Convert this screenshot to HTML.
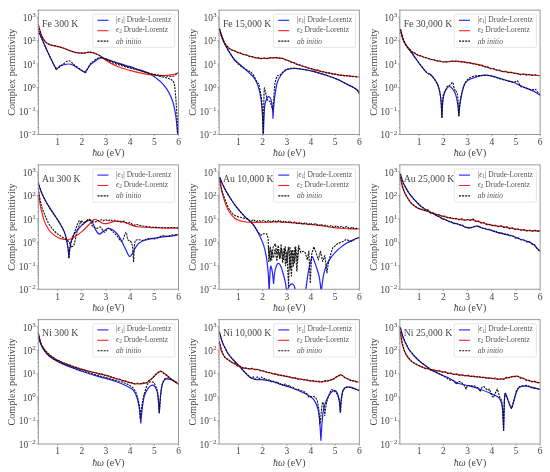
<!DOCTYPE html><html><head><meta charset="utf-8"><style>html,body{margin:0;padding:0;background:#fff;width:550px;height:472px;overflow:hidden}svg{display:block}text{font-family:"Liberation Serif","DejaVu Serif",serif;fill:#464646}</style></head><body>
<svg width="550" height="472" viewBox="0 0 550 472">
<g>
<clipPath id="c00"><rect x="38.30" y="10.10" width="140.20" height="124.30"/></clipPath>
<g clip-path="url(#c00)" fill="none" stroke-linejoin="round">
<path d="M38.30,30.40 C39.72,33.67 43.90,43.80 46.80,50.00 C49.70,56.20 53.43,65.00 55.70,67.60 C57.97,70.20 58.27,66.20 60.40,65.60 C62.53,65.00 66.47,64.12 68.50,64.00 C70.53,63.88 71.02,64.18 72.60,64.90 C74.18,65.62 75.97,67.17 78.00,68.30 C80.03,69.43 82.77,72.27 84.80,71.70 C86.83,71.13 88.50,66.65 90.20,64.90 C91.90,63.15 93.68,62.18 95.00,61.20 C96.32,60.22 97.07,59.53 98.10,59.00 C99.13,58.47 100.17,58.08 101.20,58.00 C102.23,57.92 102.75,58.08 104.30,58.50 C105.85,58.92 108.18,59.73 110.50,60.50 C112.82,61.27 115.63,62.27 118.20,63.10 C120.77,63.93 123.33,64.72 125.90,65.50 C128.47,66.28 131.02,66.98 133.60,67.80 C136.18,68.62 138.82,69.45 141.40,70.40 C143.98,71.35 147.05,72.52 149.10,73.50 C151.15,74.48 152.38,75.42 153.70,76.30 C155.02,77.18 155.87,77.92 157.00,78.80 C158.13,79.68 159.33,80.52 160.50,81.60 C161.67,82.68 162.92,84.02 164.00,85.30 C165.08,86.58 166.08,87.90 167.00,89.30 C167.92,90.70 168.70,92.08 169.50,93.70 C170.30,95.32 171.10,97.13 171.80,99.00 C172.50,100.87 173.03,102.07 173.70,104.90 C174.37,107.73 175.22,112.05 175.80,116.00 C176.38,119.95 176.87,125.27 177.20,128.60 C177.53,131.93 177.70,134.77 177.80,136.00" stroke="#1f1fff" stroke-width="1.2"/>
<path d="M38.30,24.90 C38.82,26.60 40.20,32.27 41.40,35.10 C42.60,37.93 44.13,40.32 45.50,41.90 C46.87,43.48 47.80,43.88 49.60,44.60 C51.40,45.32 54.05,45.63 56.30,46.20 C58.55,46.77 60.83,47.25 63.10,48.00 C65.37,48.75 67.63,49.92 69.90,50.70 C72.17,51.48 74.45,52.30 76.70,52.70 C78.95,53.10 81.37,53.20 83.40,53.10 C85.43,53.00 87.32,52.17 88.90,52.10 C90.48,52.03 91.88,52.48 92.90,52.70 C93.92,52.92 93.88,52.95 95.00,53.40 C96.12,53.85 98.05,54.47 99.60,55.40 C101.15,56.33 102.48,57.72 104.30,59.00 C106.12,60.28 108.18,61.82 110.50,63.10 C112.82,64.38 115.63,65.67 118.20,66.70 C120.77,67.73 123.33,68.53 125.90,69.30 C128.47,70.07 131.02,70.65 133.60,71.30 C136.18,71.95 138.82,72.63 141.40,73.20 C143.98,73.77 146.53,74.32 149.10,74.70 C151.67,75.08 154.23,75.37 156.80,75.50 C159.37,75.63 161.92,75.63 164.50,75.50 C167.08,75.37 169.95,75.13 172.30,74.70 C174.65,74.27 177.55,73.20 178.60,72.90" stroke="#ff1f1f" stroke-width="1.2"/>
<path d="M38.30,24.90 C38.82,26.60 40.20,32.27 41.40,35.10 C42.60,37.93 44.13,40.32 45.50,41.90 C46.87,43.48 47.80,43.88 49.60,44.60 C51.40,45.32 54.05,45.63 56.30,46.20 C58.55,46.77 60.83,47.25 63.10,48.00 C65.37,48.75 67.63,49.92 69.90,50.70 C72.17,51.48 74.45,52.30 76.70,52.70 C78.95,53.10 81.37,53.20 83.40,53.10 C85.43,53.00 87.32,52.17 88.90,52.10 C90.48,52.03 91.88,52.48 92.90,52.70 C93.92,52.92 93.88,52.92 95.00,53.40 C96.12,53.88 98.05,54.70 99.60,55.60 C101.15,56.50 102.48,57.77 104.30,58.80 C106.12,59.83 108.18,60.83 110.50,61.80 C112.82,62.77 115.63,63.75 118.20,64.60 C120.77,65.45 123.33,66.17 125.90,66.90 C128.47,67.63 131.02,68.32 133.60,69.00 C136.18,69.68 138.82,70.30 141.40,71.00 C143.98,71.70 146.53,72.58 149.10,73.20 C151.67,73.82 154.23,74.23 156.80,74.70 C159.37,75.17 162.43,75.73 164.50,76.00 C166.57,76.27 167.65,76.30 169.20,76.30 C170.75,76.30 172.52,76.47 173.80,76.00 C175.08,75.53 176.10,74.08 176.90,73.50 C177.70,72.92 178.32,72.67 178.60,72.50" stroke="#111" stroke-width="1.1" stroke-dasharray="2.1,1"/>
<path d="M38.30,30.40 C39.72,33.67 43.83,43.45 46.80,50.00 C49.77,56.55 54.55,66.42 56.10,69.70 M56.10,69.70 C57.08,68.92 59.87,66.48 62.00,65.00 C64.13,63.52 66.73,60.72 68.90,60.80 C71.07,60.88 72.23,63.47 75.00,65.50 C77.77,67.53 83.75,71.75 85.50,73.00 M85.50,73.00 C86.28,71.53 88.73,66.28 90.20,64.20 C91.67,62.12 92.72,61.62 94.30,60.50 C95.88,59.38 97.92,57.82 99.70,57.50 C101.48,57.18 103.20,58.05 105.00,58.60 C106.80,59.15 108.30,59.98 110.50,60.80 C112.70,61.62 115.63,62.63 118.20,63.50 C120.77,64.37 123.33,65.20 125.90,66.00 C128.47,66.80 131.02,67.47 133.60,68.30 C136.18,69.13 138.82,70.13 141.40,71.00 C143.98,71.87 146.53,72.75 149.10,73.50 C151.67,74.25 153.97,74.78 156.80,75.50 C159.63,76.22 163.78,77.15 166.10,77.80 C168.42,78.45 169.42,78.62 170.70,79.40 C171.98,80.18 173.07,80.73 173.80,82.50 C174.53,84.27 174.65,85.75 175.10,90.00 C175.55,94.25 176.15,102.97 176.50,108.00 C176.85,113.03 177.03,115.53 177.20,120.20 C177.37,124.87 177.45,133.37 177.50,136.00" stroke="#111" stroke-width="1.1" stroke-dasharray="2.1,1"/>
</g>
<rect x="38.30" y="10.10" width="140.20" height="124.30" fill="none" stroke="#808080" stroke-width="0.8"/>
<path d="M57.64,134.40v1.8 M81.81,134.40v1.8 M105.98,134.40v1.8 M130.16,134.40v1.8 M154.33,134.40v1.8 M178.50,134.40v1.8 M38.30,134.40h-1.8 M38.30,127.34h-1 M38.30,123.21h-1 M38.30,120.28h-1 M38.30,118.01h-1 M38.30,116.15h-1 M38.30,114.58h-1 M38.30,113.22h-1 M38.30,112.02h-1 M38.30,110.95h-1.8 M38.30,103.89h-1 M38.30,99.76h-1 M38.30,96.83h-1 M38.30,94.56h-1 M38.30,92.71h-1 M38.30,91.14h-1 M38.30,89.78h-1 M38.30,88.58h-1 M38.30,87.50h-1.8 M38.30,80.44h-1 M38.30,76.32h-1 M38.30,73.39h-1 M38.30,71.11h-1 M38.30,69.26h-1 M38.30,67.69h-1 M38.30,66.33h-1 M38.30,65.13h-1 M38.30,64.06h-1.8 M38.30,57.00h-1 M38.30,52.87h-1 M38.30,49.94h-1 M38.30,47.67h-1 M38.30,45.81h-1 M38.30,44.24h-1 M38.30,42.88h-1 M38.30,41.68h-1 M38.30,40.61h-1.8 M38.30,33.55h-1 M38.30,29.42h-1 M38.30,26.49h-1 M38.30,24.22h-1 M38.30,22.36h-1 M38.30,20.79h-1 M38.30,19.43h-1 M38.30,18.23h-1 M38.30,17.16h-1.8 M38.30,10.10h-1" stroke="#777" stroke-width="0.6" fill="none"/>
<text x="57.64" y="144.80" font-size="9.5" text-anchor="middle">1</text>
<text x="81.81" y="144.80" font-size="9.5" text-anchor="middle">2</text>
<text x="105.98" y="144.80" font-size="9.5" text-anchor="middle">3</text>
<text x="130.16" y="144.80" font-size="9.5" text-anchor="middle">4</text>
<text x="154.33" y="144.80" font-size="9.5" text-anchor="middle">5</text>
<text x="178.50" y="144.80" font-size="9.5" text-anchor="middle">6</text>
<text x="35.70" y="138.20" font-size="9.5" text-anchor="end">10<tspan font-size="7.03" dy="-3.7">−2</tspan></text>
<text x="35.70" y="114.75" font-size="9.5" text-anchor="end">10<tspan font-size="7.03" dy="-3.7">−1</tspan></text>
<text x="35.70" y="91.30" font-size="9.5" text-anchor="end">10<tspan font-size="7.03" dy="-3.7">0</tspan></text>
<text x="35.70" y="67.86" font-size="9.5" text-anchor="end">10<tspan font-size="7.03" dy="-3.7">1</tspan></text>
<text x="35.70" y="44.41" font-size="9.5" text-anchor="end">10<tspan font-size="7.03" dy="-3.7">2</tspan></text>
<text x="35.70" y="20.96" font-size="9.5" text-anchor="end">10<tspan font-size="7.03" dy="-3.7">3</tspan></text>
<text x="108.40" y="155.90" font-size="9.9" text-anchor="middle"><tspan font-style="italic">ħω</tspan> (eV)</text>
<text transform="translate(14.90,72.25) rotate(-90)" font-size="10.1" text-anchor="middle">Complex permittivity</text>
<text x="42.10" y="26.70" font-size="9.75">Fe 300 K</text>
<rect x="92.70" y="14.10" width="82.10" height="33.30" rx="1.5" fill="#fff" fill-opacity="0.8" stroke="#ddd" stroke-width="0.7"/>
<path d="M97.40,20.30h11" stroke="#1f1fff" stroke-width="1.1"/>
<path d="M97.40,30.70h11" stroke="#ff1f1f" stroke-width="1.1"/>
<path d="M97.40,41.10h11" stroke="#111" stroke-width="1.1" stroke-dasharray="2.1,1"/>
<text x="116.10" y="21.80" font-size="7.5" style="fill:#555">|<tspan font-style="italic">ϵ</tspan><tspan font-size="5.25" dy="1.2">1</tspan><tspan dy="-1.2">|</tspan> Drude-Lorentz</text>
<text x="116.10" y="32.20" font-size="7.5" style="fill:#555"><tspan font-style="italic">ϵ</tspan><tspan font-size="5.25" dy="1.2">2</tspan><tspan dy="-1.2"> Drude-Lorentz</tspan></text>
<text x="116.10" y="43.50" font-size="7.5" font-style="italic" style="fill:#555">ab initio</text>
</g>
<g>
<clipPath id="c01"><rect x="219.10" y="10.10" width="140.20" height="124.30"/></clipPath>
<g clip-path="url(#c01)" fill="none" stroke-linejoin="round">
<path d="M219.30,28.30 C219.82,29.88 221.20,34.63 222.40,37.80 C223.60,40.97 225.13,44.58 226.50,47.30 C227.87,50.02 229.23,51.98 230.60,54.10 C231.97,56.22 232.95,58.10 234.70,60.00 C236.45,61.90 238.68,63.35 241.10,65.50 C243.52,67.65 247.05,70.87 249.20,72.90 C251.35,74.93 252.53,75.57 254.00,77.70 C255.47,79.83 256.93,82.75 258.00,85.70 C259.07,88.65 259.73,91.63 260.40,95.40 C261.07,99.17 261.60,104.02 262.00,108.30 C262.40,112.58 262.58,116.48 262.80,121.10 C263.02,125.72 263.22,133.52 263.30,136.00 M263.30,136.00 C263.50,131.38 264.03,114.27 264.50,108.30 C264.97,102.33 265.43,102.13 266.10,100.20 C266.77,98.27 267.70,96.83 268.50,96.70 C269.30,96.57 270.23,97.47 270.90,99.40 C271.57,101.33 272.15,105.08 272.50,108.30 C272.85,111.52 272.92,116.97 273.00,118.70 M273.00,118.70 C273.10,116.97 273.28,112.18 273.60,108.30 C273.92,104.42 274.28,99.70 274.90,95.40 C275.52,91.10 276.23,85.98 277.30,82.50 C278.37,79.02 279.82,76.63 281.30,74.50 C282.78,72.37 284.73,70.63 286.20,69.70 C287.67,68.77 288.55,69.12 290.10,68.90 C291.65,68.68 293.45,68.33 295.50,68.40 C297.55,68.47 299.43,68.80 302.40,69.30 C305.37,69.80 309.22,70.37 313.30,71.40 C317.38,72.43 322.82,74.15 326.90,75.50 C330.98,76.85 334.85,78.25 337.80,79.50 C340.75,80.75 342.32,81.85 344.60,83.00 C346.88,84.15 349.45,85.27 351.50,86.40 C353.55,87.53 355.55,88.55 356.90,89.80 C358.25,91.05 359.15,93.22 359.60,93.90" stroke="#1f1fff" stroke-width="1.2"/>
<path d="M219.30,28.30 C219.82,30.12 221.20,36.25 222.40,39.20 C223.60,42.15 225.13,44.32 226.50,46.00 C227.87,47.68 228.80,48.28 230.60,49.30 C232.40,50.32 235.05,51.23 237.30,52.10 C239.55,52.97 241.83,53.77 244.10,54.50 C246.37,55.23 248.63,55.90 250.90,56.50 C253.17,57.10 255.45,57.78 257.70,58.10 C259.95,58.42 261.70,58.47 264.40,58.40 C267.10,58.33 270.95,57.70 273.90,57.70 C276.85,57.70 280.08,58.05 282.10,58.40 C284.12,58.75 284.22,59.12 286.00,59.80 C287.78,60.48 290.53,61.60 292.80,62.50 C295.07,63.40 296.18,64.07 299.60,65.20 C303.02,66.33 308.75,68.05 313.30,69.30 C317.85,70.55 322.37,71.72 326.90,72.70 C331.43,73.68 335.95,74.57 340.50,75.20 C345.05,75.83 351.02,76.18 354.20,76.50 C357.38,76.82 358.70,77.00 359.60,77.10" stroke="#ff1f1f" stroke-width="1.2"/>
<path d="M219.30,28.74 C219.80,30.35 221.30,35.84 222.30,38.41 C223.30,40.99 224.30,42.70 225.30,44.18 C226.30,45.65 227.30,46.30 228.30,47.27 C229.30,48.24 230.30,49.46 231.30,49.99 C232.30,50.53 233.30,50.07 234.30,50.48 C235.30,50.89 236.30,52.04 237.30,52.45 C238.30,52.86 239.30,52.57 240.30,52.92 C241.30,53.27 242.30,54.23 243.30,54.55 C244.30,54.87 245.30,54.51 246.30,54.82 C247.30,55.12 248.30,56.05 249.30,56.35 C250.30,56.66 251.30,56.39 252.30,56.63 C253.30,56.88 254.30,57.61 255.30,57.81 C256.30,58.02 257.30,57.72 258.30,57.86 C259.30,57.99 260.30,58.61 261.30,58.63 C262.30,58.64 263.30,57.95 264.30,57.95 C265.30,57.95 266.30,58.67 267.30,58.62 C268.30,58.57 269.30,57.75 270.30,57.65 C271.30,57.55 272.30,58.02 273.30,58.03 C274.30,58.03 275.30,57.63 276.30,57.67 C277.30,57.72 278.30,58.22 279.30,58.32 C280.30,58.43 281.30,58.06 282.30,58.31 C283.30,58.57 284.30,59.48 285.30,59.84 C286.30,60.20 287.30,60.08 288.30,60.47 C289.30,60.86 290.30,61.80 291.30,62.17 C292.30,62.54 293.30,62.27 294.30,62.68 C295.30,63.08 296.30,64.19 297.30,64.59 C298.30,65.00 299.30,64.77 300.30,65.09 C301.30,65.41 302.30,66.20 303.30,66.53 C304.30,66.85 305.30,66.74 306.30,67.05 C307.30,67.35 308.30,68.06 309.30,68.35 C310.30,68.64 311.30,68.52 312.30,68.81 C313.30,69.10 314.30,69.89 315.30,70.10 C316.30,70.32 317.30,69.84 318.30,70.10 C319.30,70.36 320.30,71.36 321.30,71.65 C322.30,71.94 323.30,71.59 324.30,71.85 C325.30,72.10 326.30,73.01 327.30,73.19 C328.30,73.37 329.30,72.76 330.30,72.94 C331.30,73.11 332.30,74.07 333.30,74.25 C334.30,74.43 335.30,73.82 336.30,74.01 C337.30,74.19 338.30,75.20 339.30,75.36 C340.30,75.52 341.30,74.89 342.30,74.98 C343.30,75.08 344.30,75.83 345.30,75.91 C346.30,76.00 347.30,75.37 348.30,75.50 C349.30,75.62 350.30,76.53 351.30,76.66 C352.30,76.80 353.30,76.22 354.30,76.31 C355.30,76.41 356.80,77.07 357.30,77.22" stroke="#111" stroke-width="1.1" stroke-dasharray="2.1,1"/>
<path d="M219.30,28.30 C219.82,29.88 221.20,34.63 222.40,37.80 C223.60,40.97 225.13,44.58 226.50,47.30 C227.87,50.02 229.23,51.98 230.60,54.10 C231.97,56.22 232.95,57.95 234.70,60.00 C236.45,62.05 238.68,64.52 241.10,66.40 C243.52,68.28 247.45,70.22 249.20,71.30 C250.95,72.38 250.80,72.10 251.60,72.90 C252.40,73.70 253.07,74.50 254.00,76.10 C254.93,77.70 256.40,81.17 257.20,82.50 C258.00,83.83 258.27,82.48 258.80,84.10 C259.33,85.72 259.87,88.98 260.40,92.20 C260.93,95.42 261.53,96.10 262.00,103.40 C262.47,110.70 263.00,130.57 263.20,136.00 M263.20,136.00 C263.35,128.70 263.82,99.90 264.10,92.20 C264.38,84.50 264.57,89.40 264.90,89.80 C265.23,90.20 265.63,92.87 266.10,94.60 C266.57,96.33 267.03,99.00 267.70,100.20 C268.37,101.40 269.30,100.18 270.10,101.80 C270.90,103.42 272.10,108.55 272.50,109.90 M272.50,109.90 C272.63,109.10 272.90,109.40 273.30,105.10 C273.70,100.80 274.23,88.93 274.90,84.10 C275.57,79.27 276.50,77.57 277.30,76.10 C278.10,74.63 278.48,76.23 279.70,75.30 C280.92,74.37 282.72,71.65 284.60,70.50 C286.48,69.35 289.18,68.75 291.00,68.40 C292.82,68.05 293.60,68.25 295.50,68.40 C297.40,68.55 299.43,68.80 302.40,69.30 C305.37,69.80 309.22,70.37 313.30,71.40 C317.38,72.43 322.82,74.15 326.90,75.50 C330.98,76.85 334.85,78.25 337.80,79.50 C340.75,80.75 342.78,82.05 344.60,83.00 C346.42,83.95 347.55,84.63 348.70,85.20 C349.85,85.77 350.13,85.63 351.50,86.40 C352.87,87.17 355.55,88.55 356.90,89.80 C358.25,91.05 359.15,93.22 359.60,93.90" stroke="#111" stroke-width="1.1" stroke-dasharray="2.1,1"/>
</g>
<rect x="219.10" y="10.10" width="140.20" height="124.30" fill="none" stroke="#808080" stroke-width="0.8"/>
<path d="M238.44,134.40v1.8 M262.61,134.40v1.8 M286.78,134.40v1.8 M310.96,134.40v1.8 M335.13,134.40v1.8 M359.30,134.40v1.8 M219.10,134.40h-1.8 M219.10,127.34h-1 M219.10,123.21h-1 M219.10,120.28h-1 M219.10,118.01h-1 M219.10,116.15h-1 M219.10,114.58h-1 M219.10,113.22h-1 M219.10,112.02h-1 M219.10,110.95h-1.8 M219.10,103.89h-1 M219.10,99.76h-1 M219.10,96.83h-1 M219.10,94.56h-1 M219.10,92.71h-1 M219.10,91.14h-1 M219.10,89.78h-1 M219.10,88.58h-1 M219.10,87.50h-1.8 M219.10,80.44h-1 M219.10,76.32h-1 M219.10,73.39h-1 M219.10,71.11h-1 M219.10,69.26h-1 M219.10,67.69h-1 M219.10,66.33h-1 M219.10,65.13h-1 M219.10,64.06h-1.8 M219.10,57.00h-1 M219.10,52.87h-1 M219.10,49.94h-1 M219.10,47.67h-1 M219.10,45.81h-1 M219.10,44.24h-1 M219.10,42.88h-1 M219.10,41.68h-1 M219.10,40.61h-1.8 M219.10,33.55h-1 M219.10,29.42h-1 M219.10,26.49h-1 M219.10,24.22h-1 M219.10,22.36h-1 M219.10,20.79h-1 M219.10,19.43h-1 M219.10,18.23h-1 M219.10,17.16h-1.8 M219.10,10.10h-1" stroke="#777" stroke-width="0.6" fill="none"/>
<text x="238.44" y="144.80" font-size="9.5" text-anchor="middle">1</text>
<text x="262.61" y="144.80" font-size="9.5" text-anchor="middle">2</text>
<text x="286.78" y="144.80" font-size="9.5" text-anchor="middle">3</text>
<text x="310.96" y="144.80" font-size="9.5" text-anchor="middle">4</text>
<text x="335.13" y="144.80" font-size="9.5" text-anchor="middle">5</text>
<text x="359.30" y="144.80" font-size="9.5" text-anchor="middle">6</text>
<text x="216.50" y="138.20" font-size="9.5" text-anchor="end">10<tspan font-size="7.03" dy="-3.7">−2</tspan></text>
<text x="216.50" y="114.75" font-size="9.5" text-anchor="end">10<tspan font-size="7.03" dy="-3.7">−1</tspan></text>
<text x="216.50" y="91.30" font-size="9.5" text-anchor="end">10<tspan font-size="7.03" dy="-3.7">0</tspan></text>
<text x="216.50" y="67.86" font-size="9.5" text-anchor="end">10<tspan font-size="7.03" dy="-3.7">1</tspan></text>
<text x="216.50" y="44.41" font-size="9.5" text-anchor="end">10<tspan font-size="7.03" dy="-3.7">2</tspan></text>
<text x="216.50" y="20.96" font-size="9.5" text-anchor="end">10<tspan font-size="7.03" dy="-3.7">3</tspan></text>
<text x="289.20" y="155.90" font-size="9.9" text-anchor="middle"><tspan font-style="italic">ħω</tspan> (eV)</text>
<text transform="translate(195.70,72.25) rotate(-90)" font-size="10.1" text-anchor="middle">Complex permittivity</text>
<text x="222.90" y="26.70" font-size="9.75">Fe 15,000 K</text>
<rect x="273.50" y="14.10" width="82.10" height="33.30" rx="1.5" fill="#fff" fill-opacity="0.8" stroke="#ddd" stroke-width="0.7"/>
<path d="M278.20,20.30h11" stroke="#1f1fff" stroke-width="1.1"/>
<path d="M278.20,30.70h11" stroke="#ff1f1f" stroke-width="1.1"/>
<path d="M278.20,41.10h11" stroke="#111" stroke-width="1.1" stroke-dasharray="2.1,1"/>
<text x="296.90" y="21.80" font-size="7.5" style="fill:#555">|<tspan font-style="italic">ϵ</tspan><tspan font-size="5.25" dy="1.2">1</tspan><tspan dy="-1.2">|</tspan> Drude-Lorentz</text>
<text x="296.90" y="32.20" font-size="7.5" style="fill:#555"><tspan font-style="italic">ϵ</tspan><tspan font-size="5.25" dy="1.2">2</tspan><tspan dy="-1.2"> Drude-Lorentz</tspan></text>
<text x="296.90" y="43.50" font-size="7.5" font-style="italic" style="fill:#555">ab initio</text>
</g>
<g>
<clipPath id="c02"><rect x="399.90" y="10.10" width="140.20" height="124.30"/></clipPath>
<g clip-path="url(#c02)" fill="none" stroke-linejoin="round">
<path d="M400.30,29.00 C400.82,30.82 402.20,36.85 403.40,39.90 C404.60,42.95 406.13,45.17 407.50,47.30 C408.87,49.43 410.23,50.83 411.60,52.70 C412.97,54.57 413.95,56.08 415.70,58.50 C417.45,60.92 420.22,64.80 422.10,67.20 C423.98,69.60 425.65,71.73 427.00,72.90 C428.35,74.07 429.13,73.40 430.20,74.20 C431.27,75.00 432.20,76.05 433.40,77.70 C434.60,79.35 436.33,81.68 437.40,84.10 C438.47,86.52 439.18,89.25 439.80,92.20 C440.42,95.15 440.75,97.52 441.10,101.80 C441.45,106.08 441.77,115.22 441.90,117.90 M441.90,117.90 C442.03,115.22 442.23,106.08 442.70,101.80 C443.17,97.52 443.97,94.47 444.70,92.20 C445.43,89.93 446.30,89.15 447.10,88.20 C447.90,87.25 448.57,86.37 449.50,86.50 C450.43,86.63 451.63,87.52 452.70,89.00 C453.77,90.48 455.05,92.73 455.90,95.40 C456.75,98.07 457.32,101.52 457.80,105.00 C458.28,108.48 458.63,114.42 458.80,116.30 M458.80,116.30 C458.98,114.42 459.45,108.48 459.90,105.00 C460.35,101.52 460.82,98.62 461.50,95.40 C462.18,92.18 463.05,88.12 464.00,85.70 C464.95,83.28 465.78,82.15 467.20,80.90 C468.62,79.65 470.37,79.05 472.50,78.20 C474.63,77.35 477.82,76.30 480.00,75.80 C482.18,75.30 483.72,75.20 485.60,75.20 C487.48,75.20 489.42,75.42 491.30,75.80 C493.18,76.18 495.03,76.93 496.90,77.50 C498.77,78.07 500.62,78.63 502.50,79.20 C504.38,79.77 506.32,80.35 508.20,80.90 C510.08,81.45 511.92,81.75 513.80,82.50 C515.68,83.25 517.62,84.55 519.50,85.40 C521.38,86.25 523.23,86.85 525.10,87.60 C526.97,88.35 528.82,89.05 530.70,89.90 C532.58,90.75 534.75,91.75 536.40,92.70 C538.05,93.65 539.90,95.12 540.60,95.60" stroke="#1f1fff" stroke-width="1.2"/>
<path d="M400.30,29.00 C400.82,30.92 402.20,37.45 403.40,40.50 C404.60,43.55 406.13,45.48 407.50,47.30 C408.87,49.12 409.80,50.08 411.60,51.40 C413.40,52.72 416.05,54.18 418.30,55.20 C420.55,56.22 422.83,56.78 425.10,57.50 C427.37,58.22 429.63,58.90 431.90,59.50 C434.17,60.10 436.45,60.70 438.70,61.10 C440.95,61.50 442.70,61.90 445.40,61.90 C448.10,61.90 451.95,61.10 454.90,61.10 C457.85,61.10 460.25,61.52 463.10,61.90 C465.95,62.28 469.08,62.85 472.00,63.40 C474.92,63.95 477.38,64.35 480.60,65.20 C483.82,66.05 487.65,67.48 491.30,68.50 C494.95,69.52 498.75,70.55 502.50,71.30 C506.25,72.05 510.97,72.53 513.80,73.00 C516.63,73.47 517.62,73.87 519.50,74.10 C521.38,74.33 523.23,74.27 525.10,74.40 C526.97,74.53 528.12,74.70 530.70,74.90 C533.28,75.10 538.95,75.48 540.60,75.60" stroke="#ff1f1f" stroke-width="1.2"/>
<path d="M400.30,29.26 C400.80,31.01 402.30,37.04 403.30,39.76 C404.30,42.49 405.30,44.12 406.30,45.61 C407.30,47.11 408.30,47.62 409.30,48.71 C410.30,49.81 411.30,51.43 412.30,52.19 C413.30,52.96 414.30,52.77 415.30,53.30 C416.30,53.83 417.30,54.97 418.30,55.38 C419.30,55.79 420.30,55.39 421.30,55.75 C422.30,56.10 423.30,57.14 424.30,57.50 C425.30,57.85 426.30,57.55 427.30,57.89 C428.30,58.23 429.30,59.29 430.30,59.55 C431.30,59.82 432.30,59.25 433.30,59.49 C434.30,59.73 435.30,60.78 436.30,61.00 C437.30,61.23 438.30,60.68 439.30,60.83 C440.30,60.98 441.30,61.79 442.30,61.93 C443.30,62.07 444.30,61.64 445.30,61.66 C446.30,61.68 447.30,62.18 448.30,62.05 C449.30,61.93 450.30,61.02 451.30,60.92 C452.30,60.83 453.30,61.51 454.30,61.51 C455.30,61.50 456.30,60.81 457.30,60.90 C458.30,60.99 459.30,61.90 460.30,62.04 C461.30,62.18 462.30,61.60 463.30,61.74 C464.30,61.88 465.30,62.74 466.30,62.88 C467.30,63.02 468.30,62.42 469.30,62.56 C470.30,62.71 471.30,63.52 472.30,63.74 C473.30,63.97 474.30,63.66 475.30,63.90 C476.30,64.15 477.30,65.00 478.30,65.20 C479.30,65.39 480.30,64.81 481.30,65.08 C482.30,65.34 483.30,66.48 484.30,66.77 C485.30,67.05 486.30,66.48 487.30,66.78 C488.30,67.09 489.30,68.33 490.30,68.62 C491.30,68.90 492.30,68.26 493.30,68.50 C494.30,68.74 495.30,69.81 496.30,70.06 C497.30,70.32 498.30,69.79 499.30,70.04 C500.30,70.30 501.30,71.38 502.30,71.58 C503.30,71.78 504.30,71.04 505.30,71.22 C506.30,71.40 507.30,72.46 508.30,72.66 C509.30,72.85 510.30,72.30 511.30,72.41 C512.30,72.53 513.30,73.15 514.30,73.32 C515.30,73.49 516.30,73.20 517.30,73.42 C518.30,73.65 519.30,74.56 520.30,74.66 C521.30,74.75 522.30,73.93 523.30,73.98 C524.30,74.02 525.30,74.82 526.30,74.90 C527.30,74.99 528.30,74.42 529.30,74.49 C530.30,74.57 531.30,75.30 532.30,75.37 C533.30,75.44 534.30,74.85 535.30,74.92 C536.30,74.98 537.80,75.60 538.30,75.74" stroke="#111" stroke-width="1.1" stroke-dasharray="2.1,1"/>
<path d="M400.30,29.00 C400.82,30.82 402.20,36.85 403.40,39.90 C404.60,42.95 406.13,45.17 407.50,47.30 C408.87,49.43 410.23,50.83 411.60,52.70 C412.97,54.57 413.95,56.08 415.70,58.50 C417.45,60.92 420.22,64.80 422.10,67.20 C423.98,69.60 425.52,71.55 427.00,72.90 C428.48,74.25 429.93,74.50 431.00,75.30 C432.07,76.10 432.33,76.23 433.40,77.70 C434.47,79.17 436.33,81.68 437.40,84.10 C438.47,86.52 439.18,89.25 439.80,92.20 C440.42,95.15 440.75,97.52 441.10,101.80 C441.45,106.08 441.77,115.22 441.90,117.90 M441.90,117.90 C442.03,115.42 442.48,106.82 442.70,103.00 C442.92,99.18 442.82,96.93 443.20,95.00 C443.58,93.07 444.32,92.83 445.00,91.40 C445.68,89.97 446.62,87.38 447.30,86.40 C447.98,85.42 448.50,85.82 449.10,85.50 C449.70,85.18 450.37,85.03 450.90,84.50 C451.43,83.97 451.92,82.52 452.30,82.30 C452.68,82.08 452.98,82.52 453.20,83.20 C453.42,83.88 453.38,85.50 453.60,86.40 C453.82,87.30 454.18,87.70 454.50,88.60 C454.82,89.50 455.18,91.33 455.50,91.80 C455.82,92.27 456.15,91.17 456.40,91.40 C456.65,91.63 456.78,92.43 457.00,93.20 C457.22,93.97 457.48,94.03 457.70,96.00 C457.92,97.97 458.12,101.62 458.30,105.00 C458.48,108.38 458.72,114.42 458.80,116.30 M458.80,116.30 C458.98,114.08 459.45,106.72 459.90,103.00 C460.35,99.28 460.95,96.55 461.50,94.00 C462.05,91.45 462.62,89.50 463.20,87.70 C463.78,85.90 464.25,84.57 465.00,83.20 C465.75,81.83 466.78,80.42 467.70,79.50 C468.62,78.58 469.28,78.30 470.50,77.70 C471.72,77.10 473.42,76.25 475.00,75.90 C476.58,75.55 478.23,75.72 480.00,75.60 C481.77,75.48 483.72,75.13 485.60,75.20 C487.48,75.27 489.42,75.57 491.30,76.00 C493.18,76.43 495.03,77.23 496.90,77.80 C498.77,78.37 500.62,78.87 502.50,79.40 C504.38,79.93 506.32,80.52 508.20,81.00 C510.08,81.48 512.30,82.32 513.80,82.30 C515.30,82.28 516.33,80.70 517.20,80.90 C518.07,81.10 518.43,82.57 519.00,83.50 C519.57,84.43 520.05,85.90 520.60,86.50 C521.15,87.10 521.55,86.88 522.30,87.10 C523.05,87.32 523.70,87.33 525.10,87.80 C526.50,88.27 529.00,89.65 530.70,89.90 C532.40,90.15 534.25,89.03 535.30,89.30 C536.35,89.57 536.12,90.52 537.00,91.50 C537.88,92.48 540.00,94.58 540.60,95.20" stroke="#111" stroke-width="1.1" stroke-dasharray="2.1,1"/>
</g>
<rect x="399.90" y="10.10" width="140.20" height="124.30" fill="none" stroke="#808080" stroke-width="0.8"/>
<path d="M419.24,134.40v1.8 M443.41,134.40v1.8 M467.58,134.40v1.8 M491.76,134.40v1.8 M515.93,134.40v1.8 M540.10,134.40v1.8 M399.90,134.40h-1.8 M399.90,127.34h-1 M399.90,123.21h-1 M399.90,120.28h-1 M399.90,118.01h-1 M399.90,116.15h-1 M399.90,114.58h-1 M399.90,113.22h-1 M399.90,112.02h-1 M399.90,110.95h-1.8 M399.90,103.89h-1 M399.90,99.76h-1 M399.90,96.83h-1 M399.90,94.56h-1 M399.90,92.71h-1 M399.90,91.14h-1 M399.90,89.78h-1 M399.90,88.58h-1 M399.90,87.50h-1.8 M399.90,80.44h-1 M399.90,76.32h-1 M399.90,73.39h-1 M399.90,71.11h-1 M399.90,69.26h-1 M399.90,67.69h-1 M399.90,66.33h-1 M399.90,65.13h-1 M399.90,64.06h-1.8 M399.90,57.00h-1 M399.90,52.87h-1 M399.90,49.94h-1 M399.90,47.67h-1 M399.90,45.81h-1 M399.90,44.24h-1 M399.90,42.88h-1 M399.90,41.68h-1 M399.90,40.61h-1.8 M399.90,33.55h-1 M399.90,29.42h-1 M399.90,26.49h-1 M399.90,24.22h-1 M399.90,22.36h-1 M399.90,20.79h-1 M399.90,19.43h-1 M399.90,18.23h-1 M399.90,17.16h-1.8 M399.90,10.10h-1" stroke="#777" stroke-width="0.6" fill="none"/>
<text x="419.24" y="144.80" font-size="9.5" text-anchor="middle">1</text>
<text x="443.41" y="144.80" font-size="9.5" text-anchor="middle">2</text>
<text x="467.58" y="144.80" font-size="9.5" text-anchor="middle">3</text>
<text x="491.76" y="144.80" font-size="9.5" text-anchor="middle">4</text>
<text x="515.93" y="144.80" font-size="9.5" text-anchor="middle">5</text>
<text x="540.10" y="144.80" font-size="9.5" text-anchor="middle">6</text>
<text x="397.30" y="138.20" font-size="9.5" text-anchor="end">10<tspan font-size="7.03" dy="-3.7">−2</tspan></text>
<text x="397.30" y="114.75" font-size="9.5" text-anchor="end">10<tspan font-size="7.03" dy="-3.7">−1</tspan></text>
<text x="397.30" y="91.30" font-size="9.5" text-anchor="end">10<tspan font-size="7.03" dy="-3.7">0</tspan></text>
<text x="397.30" y="67.86" font-size="9.5" text-anchor="end">10<tspan font-size="7.03" dy="-3.7">1</tspan></text>
<text x="397.30" y="44.41" font-size="9.5" text-anchor="end">10<tspan font-size="7.03" dy="-3.7">2</tspan></text>
<text x="397.30" y="20.96" font-size="9.5" text-anchor="end">10<tspan font-size="7.03" dy="-3.7">3</tspan></text>
<text x="470.00" y="155.90" font-size="9.9" text-anchor="middle"><tspan font-style="italic">ħω</tspan> (eV)</text>
<text transform="translate(376.50,72.25) rotate(-90)" font-size="10.1" text-anchor="middle">Complex permittivity</text>
<text x="403.70" y="26.70" font-size="9.75">Fe 30,000 K</text>
<rect x="454.30" y="14.10" width="82.10" height="33.30" rx="1.5" fill="#fff" fill-opacity="0.8" stroke="#ddd" stroke-width="0.7"/>
<path d="M459.00,20.30h11" stroke="#1f1fff" stroke-width="1.1"/>
<path d="M459.00,30.70h11" stroke="#ff1f1f" stroke-width="1.1"/>
<path d="M459.00,41.10h11" stroke="#111" stroke-width="1.1" stroke-dasharray="2.1,1"/>
<text x="477.70" y="21.80" font-size="7.5" style="fill:#555">|<tspan font-style="italic">ϵ</tspan><tspan font-size="5.25" dy="1.2">1</tspan><tspan dy="-1.2">|</tspan> Drude-Lorentz</text>
<text x="477.70" y="32.20" font-size="7.5" style="fill:#555"><tspan font-style="italic">ϵ</tspan><tspan font-size="5.25" dy="1.2">2</tspan><tspan dy="-1.2"> Drude-Lorentz</tspan></text>
<text x="477.70" y="43.50" font-size="7.5" font-style="italic" style="fill:#555">ab initio</text>
</g>
<g>
<clipPath id="c10"><rect x="38.30" y="164.90" width="140.20" height="124.30"/></clipPath>
<g clip-path="url(#c10)" fill="none" stroke-linejoin="round">
<path d="M38.30,182.30 C38.40,182.75 38.27,183.07 38.90,185.00 C39.53,186.93 40.93,191.15 42.10,193.90 C43.27,196.65 44.63,199.17 45.90,201.50 C47.17,203.83 48.43,205.88 49.70,207.90 C50.97,209.92 52.22,211.68 53.50,213.60 C54.78,215.52 56.12,217.38 57.40,219.40 C58.68,221.42 60.03,223.58 61.20,225.70 C62.37,227.82 63.55,229.97 64.40,232.10 C65.25,234.23 65.78,236.35 66.30,238.50 C66.82,240.65 67.17,243.00 67.50,245.00 C67.83,247.00 68.07,248.32 68.30,250.50 C68.53,252.68 68.80,256.83 68.90,258.10 M68.90,258.10 C69.07,256.42 69.47,251.05 69.90,248.00 C70.33,244.95 70.85,242.02 71.50,239.80 C72.15,237.58 72.57,236.60 73.80,234.70 C75.03,232.80 77.20,230.30 78.90,228.40 C80.60,226.50 82.30,224.68 84.00,223.30 C85.70,221.92 87.72,220.32 89.10,220.10 C90.48,219.88 91.23,220.42 92.30,222.00 C93.37,223.58 94.33,227.58 95.50,229.60 C96.67,231.62 98.03,233.78 99.30,234.10 C100.57,234.42 101.62,232.45 103.10,231.50 C104.58,230.55 106.50,228.60 108.20,228.40 C109.90,228.20 111.60,229.13 113.30,230.30 C115.00,231.47 116.70,232.97 118.40,235.40 C120.10,237.83 121.82,241.60 123.50,244.90 C125.18,248.20 127.33,253.35 128.50,255.20 C129.67,257.05 129.87,256.27 130.50,256.00 C131.13,255.73 131.55,254.85 132.30,253.60 C133.05,252.35 133.87,250.27 135.00,248.50 C136.13,246.73 137.28,244.42 139.10,243.00 C140.92,241.58 142.50,240.95 145.90,240.00 C149.30,239.05 154.95,237.98 159.50,237.30 C164.05,236.62 170.02,236.37 173.20,235.90 C176.38,235.43 177.70,234.73 178.60,234.50" stroke="#1f1fff" stroke-width="1.2"/>
<path d="M38.30,191.00 C38.50,192.55 39.08,197.48 39.50,200.30 C39.92,203.12 40.27,205.37 40.80,207.90 C41.33,210.43 42.07,213.17 42.70,215.50 C43.33,217.83 43.85,219.98 44.60,221.90 C45.35,223.82 46.35,225.52 47.20,227.00 C48.05,228.48 48.65,229.53 49.70,230.80 C50.75,232.07 52.22,233.53 53.50,234.60 C54.78,235.67 55.90,236.45 57.40,237.20 C58.90,237.95 60.82,238.72 62.50,239.10 C64.18,239.48 65.92,239.60 67.50,239.50 C69.08,239.40 70.52,239.15 72.00,238.50 C73.48,237.85 74.62,236.87 76.40,235.60 C78.18,234.33 80.58,232.75 82.70,230.90 C84.82,229.05 87.18,226.42 89.10,224.50 C91.02,222.58 92.72,220.03 94.20,219.40 C95.68,218.77 96.52,220.02 98.00,220.70 C99.48,221.38 101.40,223.07 103.10,223.50 C104.80,223.93 106.30,223.65 108.20,223.30 C110.10,222.95 112.38,221.72 114.50,221.40 C116.62,221.08 118.77,221.08 120.90,221.40 C123.03,221.72 125.18,222.57 127.30,223.30 C129.42,224.03 131.40,225.18 133.60,225.80 C135.80,226.42 137.32,226.68 140.50,227.00 C143.68,227.32 148.38,227.52 152.70,227.70 C157.02,227.88 162.08,228.05 166.40,228.10 C170.72,228.15 176.57,228.02 178.60,228.00" stroke="#ff1f1f" stroke-width="1.2"/>
<path d="M38.30,188.50 C38.62,190.47 39.57,197.07 40.20,200.30 C40.83,203.53 41.37,205.57 42.10,207.90 C42.83,210.23 43.75,212.18 44.60,214.30 C45.45,216.42 46.13,218.48 47.20,220.60 C48.27,222.72 49.73,225.18 51.00,227.00 C52.27,228.82 53.53,230.23 54.80,231.50 C56.07,232.77 57.32,233.65 58.60,234.60 C59.88,235.55 61.22,236.35 62.50,237.20 C63.78,238.05 65.25,238.97 66.30,239.70 C67.35,240.43 67.98,240.38 68.80,241.60 C69.62,242.82 70.80,246.10 71.20,247.00 M71.20,247.00 C71.68,246.58 73.13,246.98 74.10,244.50 C75.07,242.02 75.88,235.90 77.00,232.10 C78.12,228.30 79.72,223.30 80.80,221.70 C81.88,220.10 82.72,222.45 83.50,222.50 C84.28,222.55 84.75,222.33 85.50,222.00 C86.25,221.67 87.20,220.82 88.00,220.50 C88.80,220.18 89.47,219.88 90.30,220.10 C91.13,220.32 92.13,221.48 93.00,221.80 C93.87,222.12 94.75,222.22 95.50,222.00 C96.25,221.78 96.87,220.68 97.50,220.50 C98.13,220.32 98.63,221.02 99.30,220.90 C99.97,220.78 100.87,219.80 101.50,219.80 C102.13,219.80 102.43,220.95 103.10,220.90 C103.77,220.85 104.65,219.50 105.50,219.50 C106.35,219.50 107.37,220.87 108.20,220.90 C109.03,220.93 109.78,219.68 110.50,219.70 C111.22,219.72 111.83,220.92 112.50,221.00 C113.17,221.08 113.75,220.17 114.50,220.20 C115.25,220.23 115.93,220.90 117.00,221.20 C118.07,221.50 119.73,222.00 120.90,222.00 C122.07,222.00 122.93,220.98 124.00,221.20 C125.07,221.42 126.30,223.08 127.30,223.30 C128.30,223.52 128.95,222.18 130.00,222.50 C131.05,222.82 132.43,224.87 133.60,225.20 C134.77,225.53 135.85,224.42 137.00,224.50 C138.15,224.58 139.17,225.40 140.50,225.70 C141.83,226.00 142.97,226.05 145.00,226.30 C147.03,226.55 150.20,227.00 152.70,227.20 C155.20,227.40 157.72,227.40 160.00,227.50 C162.28,227.60 164.40,227.80 166.40,227.80 C168.40,227.80 169.97,227.47 172.00,227.50 C174.03,227.53 177.50,227.92 178.60,228.00" stroke="#111" stroke-width="1.1" stroke-dasharray="2.1,1"/>
<path d="M38.30,182.30 C38.40,182.75 38.27,183.07 38.90,185.00 C39.53,186.93 40.93,191.15 42.10,193.90 C43.27,196.65 44.63,199.17 45.90,201.50 C47.17,203.83 48.43,205.88 49.70,207.90 C50.97,209.92 52.22,211.68 53.50,213.60 C54.78,215.52 56.12,217.38 57.40,219.40 C58.68,221.42 60.03,223.58 61.20,225.70 C62.37,227.82 63.55,229.97 64.40,232.10 C65.25,234.23 65.78,236.35 66.30,238.50 C66.82,240.65 67.17,243.00 67.50,245.00 C67.83,247.00 68.07,248.32 68.30,250.50 C68.53,252.68 68.80,256.83 68.90,258.10 M68.90,258.10 C69.08,256.33 69.40,250.77 70.00,247.50 C70.60,244.23 71.43,241.90 72.50,238.50 C73.57,235.10 75.23,230.07 76.40,227.10 C77.57,224.13 78.45,221.13 79.50,220.70 C80.55,220.27 81.53,224.50 82.70,224.50 C83.87,224.50 85.33,221.53 86.50,220.70 C87.67,219.87 88.73,218.65 89.70,219.50 C90.67,220.35 91.13,224.32 92.30,225.80 C93.47,227.28 95.33,228.18 96.70,228.40 C98.07,228.62 99.22,226.47 100.50,227.10 C101.78,227.73 103.12,231.98 104.40,232.20 C105.68,232.42 106.72,228.40 108.20,228.40 C109.68,228.40 111.82,230.93 113.30,232.20 C114.78,233.47 115.83,234.52 117.10,236.00 C118.37,237.48 119.83,240.68 120.90,241.10 C121.97,241.52 122.65,239.98 123.50,238.50 C124.35,237.02 125.27,231.98 126.00,232.20 C126.73,232.42 127.15,238.32 127.90,239.80 C128.65,241.28 129.75,240.03 130.50,241.10 C131.25,242.17 131.88,242.72 132.40,246.20 C132.92,249.68 133.40,259.37 133.60,262.00 M133.60,262.00 C133.82,258.73 134.05,246.10 134.90,242.40 C135.75,238.70 137.52,240.12 138.70,239.80 C139.88,239.48 140.80,240.58 142.00,240.50 C143.20,240.42 144.57,239.68 145.90,239.30 C147.23,238.92 148.48,238.28 150.00,238.20 C151.52,238.12 152.95,239.18 155.00,238.80 C157.05,238.42 160.13,236.33 162.30,235.90 C164.47,235.47 166.38,236.35 168.00,236.20 C169.62,236.05 170.23,235.28 172.00,235.00 C173.77,234.72 177.50,234.58 178.60,234.50" stroke="#111" stroke-width="1.1" stroke-dasharray="2.1,1"/>
</g>
<rect x="38.30" y="164.90" width="140.20" height="124.30" fill="none" stroke="#808080" stroke-width="0.8"/>
<path d="M57.64,289.20v1.8 M81.81,289.20v1.8 M105.98,289.20v1.8 M130.16,289.20v1.8 M154.33,289.20v1.8 M178.50,289.20v1.8 M38.30,289.20h-1.8 M38.30,282.14h-1 M38.30,278.01h-1 M38.30,275.08h-1 M38.30,272.81h-1 M38.30,270.95h-1 M38.30,269.38h-1 M38.30,268.02h-1 M38.30,266.82h-1 M38.30,265.75h-1.8 M38.30,258.69h-1 M38.30,254.56h-1 M38.30,251.63h-1 M38.30,249.36h-1 M38.30,247.51h-1 M38.30,245.94h-1 M38.30,244.58h-1 M38.30,243.38h-1 M38.30,242.30h-1.8 M38.30,235.24h-1 M38.30,231.12h-1 M38.30,228.19h-1 M38.30,225.91h-1 M38.30,224.06h-1 M38.30,222.49h-1 M38.30,221.13h-1 M38.30,219.93h-1 M38.30,218.86h-1.8 M38.30,211.80h-1 M38.30,207.67h-1 M38.30,204.74h-1 M38.30,202.47h-1 M38.30,200.61h-1 M38.30,199.04h-1 M38.30,197.68h-1 M38.30,196.48h-1 M38.30,195.41h-1.8 M38.30,188.35h-1 M38.30,184.22h-1 M38.30,181.29h-1 M38.30,179.02h-1 M38.30,177.16h-1 M38.30,175.59h-1 M38.30,174.23h-1 M38.30,173.03h-1 M38.30,171.96h-1.8 M38.30,164.90h-1" stroke="#777" stroke-width="0.6" fill="none"/>
<text x="57.64" y="299.60" font-size="9.5" text-anchor="middle">1</text>
<text x="81.81" y="299.60" font-size="9.5" text-anchor="middle">2</text>
<text x="105.98" y="299.60" font-size="9.5" text-anchor="middle">3</text>
<text x="130.16" y="299.60" font-size="9.5" text-anchor="middle">4</text>
<text x="154.33" y="299.60" font-size="9.5" text-anchor="middle">5</text>
<text x="178.50" y="299.60" font-size="9.5" text-anchor="middle">6</text>
<text x="35.70" y="293.00" font-size="9.5" text-anchor="end">10<tspan font-size="7.03" dy="-3.7">−2</tspan></text>
<text x="35.70" y="269.55" font-size="9.5" text-anchor="end">10<tspan font-size="7.03" dy="-3.7">−1</tspan></text>
<text x="35.70" y="246.10" font-size="9.5" text-anchor="end">10<tspan font-size="7.03" dy="-3.7">0</tspan></text>
<text x="35.70" y="222.66" font-size="9.5" text-anchor="end">10<tspan font-size="7.03" dy="-3.7">1</tspan></text>
<text x="35.70" y="199.21" font-size="9.5" text-anchor="end">10<tspan font-size="7.03" dy="-3.7">2</tspan></text>
<text x="35.70" y="175.76" font-size="9.5" text-anchor="end">10<tspan font-size="7.03" dy="-3.7">3</tspan></text>
<text x="108.40" y="310.70" font-size="9.9" text-anchor="middle"><tspan font-style="italic">ħω</tspan> (eV)</text>
<text transform="translate(14.90,227.05) rotate(-90)" font-size="10.1" text-anchor="middle">Complex permittivity</text>
<text x="42.10" y="181.50" font-size="9.75">Au 300 K</text>
<rect x="92.70" y="168.90" width="82.10" height="33.30" rx="1.5" fill="#fff" fill-opacity="0.8" stroke="#ddd" stroke-width="0.7"/>
<path d="M97.40,175.10h11" stroke="#1f1fff" stroke-width="1.1"/>
<path d="M97.40,185.50h11" stroke="#ff1f1f" stroke-width="1.1"/>
<path d="M97.40,195.90h11" stroke="#111" stroke-width="1.1" stroke-dasharray="2.1,1"/>
<text x="116.10" y="176.60" font-size="7.5" style="fill:#555">|<tspan font-style="italic">ϵ</tspan><tspan font-size="5.25" dy="1.2">1</tspan><tspan dy="-1.2">|</tspan> Drude-Lorentz</text>
<text x="116.10" y="187.00" font-size="7.5" style="fill:#555"><tspan font-style="italic">ϵ</tspan><tspan font-size="5.25" dy="1.2">2</tspan><tspan dy="-1.2"> Drude-Lorentz</tspan></text>
<text x="116.10" y="198.30" font-size="7.5" font-style="italic" style="fill:#555">ab initio</text>
</g>
<g>
<clipPath id="c11"><rect x="219.10" y="164.90" width="140.20" height="124.30"/></clipPath>
<g clip-path="url(#c11)" fill="none" stroke-linejoin="round">
<path d="M219.50,176.90 C219.93,177.97 221.03,180.97 222.10,183.30 C223.17,185.63 224.63,188.58 225.90,190.90 C227.17,193.22 228.22,194.87 229.70,197.20 C231.18,199.53 233.10,202.57 234.80,204.90 C236.50,207.23 238.20,209.20 239.90,211.20 C241.60,213.20 243.52,215.42 245.00,216.90 C246.48,218.38 247.53,218.93 248.80,220.10 C250.07,221.27 251.52,222.65 252.60,223.90 C253.68,225.15 254.17,225.72 255.30,227.60 C256.43,229.48 258.00,232.23 259.40,235.20 C260.80,238.17 262.50,241.52 263.70,245.40 C264.90,249.28 265.82,253.42 266.60,258.50 C267.38,263.58 267.98,270.32 268.40,275.90 C268.82,281.48 268.98,289.32 269.10,292.00 M269.10,292.00 C269.30,288.10 269.93,272.73 270.30,268.60 C270.67,264.47 270.93,266.47 271.30,267.20 C271.67,267.93 272.12,270.22 272.50,273.00 C272.88,275.78 273.42,282.08 273.60,283.90 M273.60,283.90 C273.77,282.08 274.07,276.15 274.60,273.00 C275.13,269.85 276.07,266.58 276.80,265.00 C277.53,263.42 278.27,263.13 279.00,263.50 C279.73,263.87 280.47,265.37 281.20,267.20 C281.93,269.03 282.68,271.83 283.40,274.50 C284.12,277.17 284.95,280.28 285.50,283.20 C286.05,286.12 286.50,290.53 286.70,292.00 M286.70,292.00 C287.12,291.02 288.30,287.45 289.20,286.10 C290.10,284.75 291.25,283.90 292.10,283.90 C292.95,283.90 293.75,284.75 294.30,286.10 C294.85,287.45 295.22,291.02 295.40,292.00 M295.40,292.00 L300.60,305.00 M300.60,305.00 L305.50,292.00 M305.50,292.00 C305.93,288.88 307.33,278.05 308.10,273.30 C308.87,268.55 309.43,266.23 310.10,263.50 C310.77,260.77 311.45,257.45 312.10,256.90 C312.75,256.35 313.23,258.33 314.00,260.20 C314.77,262.07 315.82,265.27 316.70,268.10 C317.58,270.93 318.55,273.22 319.30,277.20 C320.05,281.18 320.88,289.53 321.20,292.00 M321.20,292.00 C321.53,289.53 322.62,280.78 323.20,277.20 C323.78,273.62 324.07,272.70 324.70,270.50 C325.33,268.30 326.03,266.05 327.00,264.00 C327.97,261.95 329.13,260.15 330.50,258.20 C331.87,256.25 333.45,254.15 335.20,252.30 C336.95,250.45 339.07,248.65 341.00,247.10 C342.93,245.55 344.85,244.17 346.80,243.00 C348.75,241.83 350.75,240.97 352.70,240.10 C354.65,239.23 357.37,238.25 358.50,237.80 C359.63,237.35 359.33,237.47 359.50,237.40" stroke="#1f1fff" stroke-width="1.2"/>
<path d="M219.50,180.10 C219.82,181.68 220.75,186.75 221.40,189.60 C222.05,192.45 222.65,194.65 223.40,197.20 C224.15,199.75 224.85,202.35 225.90,204.90 C226.95,207.45 228.22,210.28 229.70,212.50 C231.18,214.72 233.10,216.82 234.80,218.20 C236.50,219.58 238.00,220.17 239.90,220.80 C241.80,221.43 244.08,221.73 246.20,222.00 C248.32,222.27 249.97,222.33 252.60,222.40 C255.23,222.47 258.90,222.45 262.00,222.40 C265.10,222.35 268.20,222.18 271.20,222.10 C274.20,222.02 275.28,221.68 280.00,221.90 C284.72,222.12 293.00,222.82 299.50,223.40 C306.00,223.98 313.63,224.75 319.00,225.40 C324.37,226.05 327.65,226.78 331.70,227.30 C335.75,227.82 339.42,228.23 343.30,228.50 C347.18,228.77 352.30,228.83 355.00,228.90 C357.70,228.97 358.75,228.90 359.50,228.90" stroke="#ff1f1f" stroke-width="1.2"/>
<path d="M219.50,178.20 C219.93,180.32 221.23,187.48 222.10,190.90 C222.97,194.32 223.83,196.33 224.70,198.70 C225.57,201.07 226.43,203.21 227.30,205.14 C228.17,207.06 229.03,208.84 229.90,210.26 C230.77,211.69 231.63,212.80 232.50,213.68 C233.37,214.57 234.23,215.12 235.10,215.60 C235.97,216.08 236.83,216.28 237.70,216.56 C238.57,216.85 239.43,217.09 240.30,217.33 C241.17,217.57 242.03,217.80 242.90,218.00 C243.77,218.19 244.63,218.30 245.50,218.48 C246.37,218.67 247.23,218.61 248.10,219.12 C248.97,219.62 249.83,221.41 250.70,221.52 C251.57,221.63 252.43,219.75 253.30,219.77 C254.17,219.80 255.03,221.57 255.90,221.66 C256.77,221.75 257.63,220.36 258.50,220.33 C259.37,220.29 260.23,221.47 261.10,221.45 C261.97,221.44 262.83,220.14 263.70,220.24 C264.57,220.34 265.43,222.03 266.30,222.06 C267.17,222.08 268.03,220.37 268.90,220.39 C269.77,220.41 270.63,222.18 271.50,222.20 C272.37,222.21 273.23,220.47 274.10,220.45 C274.97,220.43 275.83,222.07 276.70,222.06 C277.57,222.04 278.43,220.29 279.30,220.37 C280.17,220.45 281.03,222.43 281.90,222.54 C282.77,222.65 283.63,220.99 284.50,221.04 C285.37,221.08 286.23,222.78 287.10,222.81 C287.97,222.85 288.83,221.23 289.70,221.25 C290.57,221.28 291.43,222.88 292.30,222.96 C293.17,223.05 294.03,221.63 294.90,221.78 C295.77,221.93 296.63,223.77 297.50,223.88 C298.37,223.99 299.23,222.37 300.10,222.45 C300.97,222.53 301.83,224.33 302.70,224.35 C303.57,224.38 304.43,222.53 305.30,222.62 C306.17,222.71 307.03,224.76 307.90,224.89 C308.77,225.03 309.63,223.42 310.50,223.40 C311.37,223.39 312.23,224.78 313.10,224.80 C313.97,224.82 314.83,223.36 315.70,223.54 C316.57,223.72 317.43,225.74 318.30,225.88 C319.17,226.01 320.03,224.35 320.90,224.34 C321.77,224.33 322.63,225.72 323.50,225.84 C324.37,225.96 325.23,224.91 326.10,225.07 C326.97,225.24 327.83,226.73 328.70,226.81 C329.57,226.88 330.43,225.40 331.30,225.54 C332.17,225.67 333.03,227.55 333.90,227.60 C334.77,227.65 335.63,225.85 336.50,225.83 C337.37,225.82 338.23,227.45 339.10,227.51 C339.97,227.58 340.83,226.14 341.70,226.23 C342.57,226.32 343.43,228.01 344.30,228.04 C345.17,228.07 346.03,226.27 346.90,226.41 C347.77,226.55 348.63,228.76 349.50,228.88 C350.37,229.00 351.23,227.11 352.10,227.14 C352.97,227.17 353.83,229.03 354.70,229.07 C355.57,229.11 356.87,227.67 357.30,227.40" stroke="#111" stroke-width="1.1" stroke-dasharray="2.1,1"/>
<path d="M219.50,176.90 L222.10,183.30 L225.90,190.90 L229.70,197.20 L234.80,204.90 L239.90,211.20 L245.00,216.90 L248.80,220.10 L252.60,223.90 L255.30,227.60 L258.00,232.00 L260.80,235.20 L263.70,233.70 L266.60,233.70 L268.10,238.10 L268.80,261.40 L270.30,246.80 L271.70,259.90 L273.20,246.80 L275.40,243.90 L276.80,254.10 L278.30,245.40 L279.70,258.50 L281.20,243.90 L282.60,262.80 L284.10,248.30 L285.50,265.70 L287.00,251.20 L288.50,286.10 L289.90,246.80 L291.40,275.90 L292.80,249.70 L294.30,262.80 L295.70,246.80 L297.20,261.40 L298.60,245.40 L300.80,252.60 L303.00,251.20 L305.20,252.60 L307.40,259.90 L308.80,251.20 L310.30,283.20 L311.70,254.10 L313.90,246.80 L316.10,252.60 L318.30,259.90 L320.50,251.20 L322.60,261.40 L324.80,255.60 L327.00,273.00 L328.20,264.00 L330.50,254.70 L332.80,247.70 L335.20,245.90 L337.50,243.60 L341.00,242.40 L343.30,241.30 L346.30,239.50 L349.20,240.70 L352.10,241.30 L355.00,238.90 L358.50,237.80 L359.50,237.40" stroke="#111" stroke-width="1.1" stroke-dasharray="2.1,1"/>
<path d="M268.50,246.82 L270.18,261.02 L271.96,250.04 L273.56,258.04 L275.08,248.93 L276.86,261.26 L278.18,250.99 L280.01,258.48 L281.51,248.49 L283.38,260.17 L285.17,246.62 L286.74,262.80 L288.33,246.93 L290.15,268.92 L291.58,250.84 L293.33,266.13 L295.07,246.61 L296.86,270.92 L298.69,248.05" stroke="#111" stroke-width="1.1" stroke-dasharray="2.1,1"/>
</g>
<rect x="219.10" y="164.90" width="140.20" height="124.30" fill="none" stroke="#808080" stroke-width="0.8"/>
<path d="M238.44,289.20v1.8 M262.61,289.20v1.8 M286.78,289.20v1.8 M310.96,289.20v1.8 M335.13,289.20v1.8 M359.30,289.20v1.8 M219.10,289.20h-1.8 M219.10,282.14h-1 M219.10,278.01h-1 M219.10,275.08h-1 M219.10,272.81h-1 M219.10,270.95h-1 M219.10,269.38h-1 M219.10,268.02h-1 M219.10,266.82h-1 M219.10,265.75h-1.8 M219.10,258.69h-1 M219.10,254.56h-1 M219.10,251.63h-1 M219.10,249.36h-1 M219.10,247.51h-1 M219.10,245.94h-1 M219.10,244.58h-1 M219.10,243.38h-1 M219.10,242.30h-1.8 M219.10,235.24h-1 M219.10,231.12h-1 M219.10,228.19h-1 M219.10,225.91h-1 M219.10,224.06h-1 M219.10,222.49h-1 M219.10,221.13h-1 M219.10,219.93h-1 M219.10,218.86h-1.8 M219.10,211.80h-1 M219.10,207.67h-1 M219.10,204.74h-1 M219.10,202.47h-1 M219.10,200.61h-1 M219.10,199.04h-1 M219.10,197.68h-1 M219.10,196.48h-1 M219.10,195.41h-1.8 M219.10,188.35h-1 M219.10,184.22h-1 M219.10,181.29h-1 M219.10,179.02h-1 M219.10,177.16h-1 M219.10,175.59h-1 M219.10,174.23h-1 M219.10,173.03h-1 M219.10,171.96h-1.8 M219.10,164.90h-1" stroke="#777" stroke-width="0.6" fill="none"/>
<text x="238.44" y="299.60" font-size="9.5" text-anchor="middle">1</text>
<text x="262.61" y="299.60" font-size="9.5" text-anchor="middle">2</text>
<text x="286.78" y="299.60" font-size="9.5" text-anchor="middle">3</text>
<text x="310.96" y="299.60" font-size="9.5" text-anchor="middle">4</text>
<text x="335.13" y="299.60" font-size="9.5" text-anchor="middle">5</text>
<text x="359.30" y="299.60" font-size="9.5" text-anchor="middle">6</text>
<text x="216.50" y="293.00" font-size="9.5" text-anchor="end">10<tspan font-size="7.03" dy="-3.7">−2</tspan></text>
<text x="216.50" y="269.55" font-size="9.5" text-anchor="end">10<tspan font-size="7.03" dy="-3.7">−1</tspan></text>
<text x="216.50" y="246.10" font-size="9.5" text-anchor="end">10<tspan font-size="7.03" dy="-3.7">0</tspan></text>
<text x="216.50" y="222.66" font-size="9.5" text-anchor="end">10<tspan font-size="7.03" dy="-3.7">1</tspan></text>
<text x="216.50" y="199.21" font-size="9.5" text-anchor="end">10<tspan font-size="7.03" dy="-3.7">2</tspan></text>
<text x="216.50" y="175.76" font-size="9.5" text-anchor="end">10<tspan font-size="7.03" dy="-3.7">3</tspan></text>
<text x="289.20" y="310.70" font-size="9.9" text-anchor="middle"><tspan font-style="italic">ħω</tspan> (eV)</text>
<text transform="translate(195.70,227.05) rotate(-90)" font-size="10.1" text-anchor="middle">Complex permittivity</text>
<text x="222.90" y="181.50" font-size="9.75">Au 10,000 K</text>
<rect x="273.50" y="168.90" width="82.10" height="33.30" rx="1.5" fill="#fff" fill-opacity="0.8" stroke="#ddd" stroke-width="0.7"/>
<path d="M278.20,175.10h11" stroke="#1f1fff" stroke-width="1.1"/>
<path d="M278.20,185.50h11" stroke="#ff1f1f" stroke-width="1.1"/>
<path d="M278.20,195.90h11" stroke="#111" stroke-width="1.1" stroke-dasharray="2.1,1"/>
<text x="296.90" y="176.60" font-size="7.5" style="fill:#555">|<tspan font-style="italic">ϵ</tspan><tspan font-size="5.25" dy="1.2">1</tspan><tspan dy="-1.2">|</tspan> Drude-Lorentz</text>
<text x="296.90" y="187.00" font-size="7.5" style="fill:#555"><tspan font-style="italic">ϵ</tspan><tspan font-size="5.25" dy="1.2">2</tspan><tspan dy="-1.2"> Drude-Lorentz</tspan></text>
<text x="296.90" y="198.30" font-size="7.5" font-style="italic" style="fill:#555">ab initio</text>
</g>
<g>
<clipPath id="c12"><rect x="399.90" y="164.90" width="140.20" height="124.30"/></clipPath>
<g clip-path="url(#c12)" fill="none" stroke-linejoin="round">
<path d="M400.30,173.80 C400.82,175.38 401.98,180.13 403.40,183.30 C404.82,186.47 406.98,190.08 408.80,192.80 C410.62,195.52 412.27,197.33 414.30,199.60 C416.33,201.87 418.75,204.55 421.00,206.40 C423.25,208.25 425.30,209.23 427.80,210.70 C430.30,212.17 433.28,213.78 436.00,215.20 C438.72,216.62 441.40,217.97 444.10,219.20 C446.80,220.43 449.55,221.67 452.20,222.60 C454.85,223.53 457.45,223.93 460.00,224.80 C462.55,225.67 465.52,227.35 467.50,227.80 C469.48,228.25 470.42,227.80 471.90,227.50 C473.38,227.20 474.90,226.00 476.40,226.00 C477.90,226.00 478.67,226.83 480.90,227.50 C483.13,228.17 487.07,229.20 489.80,230.00 C492.53,230.80 494.82,231.62 497.30,232.30 C499.78,232.98 502.22,233.48 504.70,234.10 C507.18,234.72 509.72,235.18 512.20,236.00 C514.68,236.82 517.12,238.13 519.60,239.00 C522.08,239.87 524.85,240.33 527.10,241.20 C529.35,242.07 530.87,242.45 533.10,244.20 C535.33,245.95 539.27,250.45 540.50,251.70" stroke="#1f1fff" stroke-width="1.2"/>
<path d="M400.30,176.60 C400.60,178.17 401.13,182.85 402.10,186.00 C403.07,189.15 404.52,192.55 406.10,195.50 C407.68,198.45 409.57,201.55 411.60,203.70 C413.63,205.85 416.05,207.28 418.30,208.40 C420.55,209.52 422.62,209.57 425.10,210.40 C427.58,211.23 430.48,212.48 433.20,213.40 C435.92,214.32 438.68,215.15 441.40,215.90 C444.12,216.65 446.80,217.38 449.50,217.90 C452.20,218.42 454.85,218.65 457.60,219.00 C460.35,219.35 463.62,219.90 466.00,220.00 C468.38,220.10 470.17,219.42 471.90,219.60 C473.63,219.78 474.65,220.60 476.40,221.10 C478.15,221.60 480.17,221.98 482.40,222.60 C484.63,223.22 486.08,224.05 489.80,224.80 C493.52,225.55 499.73,226.30 504.70,227.10 C509.67,227.90 515.12,228.98 519.60,229.60 C524.08,230.22 528.12,230.60 531.60,230.80 C535.08,231.00 539.02,230.80 540.50,230.80" stroke="#ff1f1f" stroke-width="1.2"/>
<path d="M400.30,176.60 C400.77,178.56 402.17,185.30 403.10,188.38 C404.03,191.45 404.97,193.19 405.90,195.03 C406.83,196.86 407.77,197.96 408.70,199.38 C409.63,200.80 410.57,202.51 411.50,203.55 C412.43,204.59 413.37,204.93 414.30,205.59 C415.23,206.26 416.17,207.01 417.10,207.56 C418.03,208.10 418.97,208.51 419.90,208.87 C420.83,209.23 421.77,209.33 422.70,209.69 C423.63,210.06 424.57,210.79 425.50,211.04 C426.43,211.29 427.37,210.82 428.30,211.19 C429.23,211.57 430.17,212.97 431.10,213.31 C432.03,213.66 432.97,212.97 433.90,213.27 C434.83,213.57 435.77,214.83 436.70,215.09 C437.63,215.34 438.57,214.57 439.50,214.80 C440.43,215.03 441.37,216.22 442.30,216.46 C443.23,216.69 444.17,215.98 445.10,216.21 C446.03,216.44 446.97,217.61 447.90,217.83 C448.83,218.04 449.77,217.34 450.70,217.50 C451.63,217.66 452.57,218.62 453.50,218.79 C454.43,218.95 455.37,218.31 456.30,218.47 C457.23,218.63 458.17,219.69 459.10,219.73 C460.03,219.77 460.97,218.63 461.90,218.72 C462.83,218.80 463.77,220.09 464.70,220.22 C465.63,220.34 466.57,219.44 467.50,219.46 C468.43,219.49 469.37,220.44 470.30,220.38 C471.23,220.33 472.17,218.93 473.10,219.13 C474.03,219.33 474.97,221.25 475.90,221.58 C476.83,221.91 477.77,220.86 478.70,221.14 C479.63,221.42 480.57,222.98 481.50,223.26 C482.43,223.54 483.37,222.58 484.30,222.84 C485.23,223.10 486.17,224.56 487.10,224.81 C488.03,225.06 488.97,224.20 489.90,224.34 C490.83,224.48 491.77,225.47 492.70,225.63 C493.63,225.80 494.57,225.15 495.50,225.31 C496.43,225.47 497.37,226.52 498.30,226.60 C499.23,226.67 500.17,225.62 501.10,225.75 C502.03,225.89 502.97,227.21 503.90,227.38 C504.83,227.56 505.77,226.59 506.70,226.79 C507.63,226.99 508.57,228.41 509.50,228.59 C510.43,228.77 511.37,227.70 512.30,227.85 C513.23,228.00 514.17,229.29 515.10,229.47 C516.03,229.66 516.97,228.88 517.90,228.98 C518.83,229.07 519.77,229.95 520.70,230.05 C521.63,230.14 522.57,229.41 523.50,229.57 C524.43,229.72 525.37,230.91 526.30,230.98 C527.23,231.05 528.17,229.94 529.10,229.99 C530.03,230.05 530.97,231.26 531.90,231.29 C532.83,231.31 533.77,230.13 534.70,230.15 C535.63,230.16 536.57,231.34 537.50,231.37 C538.43,231.40 539.83,230.50 540.30,230.32" stroke="#111" stroke-width="1.1" stroke-dasharray="2.1,1"/>
<path d="M400.30,173.80 C400.77,175.23 402.17,180.06 403.10,182.38 C404.03,184.70 404.97,185.99 405.90,187.70 C406.83,189.41 407.77,191.22 408.70,192.62 C409.63,194.03 410.57,194.98 411.50,196.14 C412.43,197.30 413.37,198.55 414.30,199.60 C415.23,200.65 416.17,201.49 417.10,202.44 C418.03,203.39 418.97,204.44 419.90,205.28 C420.83,206.12 421.77,206.74 422.70,207.48 C423.63,208.21 424.57,209.24 425.50,209.68 C426.43,210.12 427.37,209.56 428.30,210.10 C429.23,210.63 430.17,212.35 431.10,212.89 C432.03,213.42 432.97,212.82 433.90,213.32 C434.83,213.83 435.77,215.37 436.70,215.90 C437.63,216.42 438.57,215.93 439.50,216.48 C440.43,217.03 441.37,218.76 442.30,219.21 C443.23,219.66 444.17,218.82 445.10,219.19 C446.03,219.57 446.97,221.11 447.90,221.48 C448.83,221.85 449.77,221.05 450.70,221.39 C451.63,221.74 452.57,223.24 453.50,223.54 C454.43,223.83 455.37,222.92 456.30,223.16 C457.23,223.40 458.17,224.69 459.10,224.96 C460.03,225.23 460.97,224.42 461.90,224.76 C462.83,225.11 463.77,226.60 464.70,227.03 C465.63,227.47 466.57,227.21 467.50,227.36 C468.43,227.51 469.37,228.04 470.30,227.92 C471.23,227.80 472.17,226.84 473.10,226.64 C474.03,226.44 474.97,226.83 475.90,226.71 C476.83,226.59 477.77,225.68 478.70,225.93 C479.63,226.17 480.57,227.84 481.50,228.20 C482.43,228.56 483.37,227.84 484.30,228.09 C485.23,228.34 486.17,229.52 487.10,229.70 C488.03,229.87 488.97,228.88 489.90,229.14 C490.83,229.39 491.77,230.90 492.70,231.23 C493.63,231.55 494.57,230.77 495.50,231.08 C496.43,231.38 497.37,232.83 498.30,233.07 C499.23,233.31 500.17,232.30 501.10,232.53 C502.03,232.75 502.97,234.18 503.90,234.41 C504.83,234.64 505.77,233.64 506.70,233.89 C507.63,234.14 508.57,235.67 509.50,235.91 C510.43,236.16 511.37,235.00 512.30,235.35 C513.23,235.70 514.17,237.63 515.10,238.02 C516.03,238.40 516.97,237.38 517.90,237.66 C518.83,237.94 519.77,239.35 520.70,239.71 C521.63,240.07 522.57,239.45 523.50,239.81 C524.43,240.16 525.37,241.53 526.30,241.83 C527.23,242.13 528.17,241.24 529.10,241.61 C530.03,241.97 530.97,243.46 531.90,244.02 C532.83,244.57 533.77,244.07 534.70,244.95 C535.63,245.84 536.57,248.34 537.50,249.31 C538.43,250.27 539.83,250.52 540.30,250.76" stroke="#111" stroke-width="1.1" stroke-dasharray="2.1,1"/>
</g>
<rect x="399.90" y="164.90" width="140.20" height="124.30" fill="none" stroke="#808080" stroke-width="0.8"/>
<path d="M419.24,289.20v1.8 M443.41,289.20v1.8 M467.58,289.20v1.8 M491.76,289.20v1.8 M515.93,289.20v1.8 M540.10,289.20v1.8 M399.90,289.20h-1.8 M399.90,282.14h-1 M399.90,278.01h-1 M399.90,275.08h-1 M399.90,272.81h-1 M399.90,270.95h-1 M399.90,269.38h-1 M399.90,268.02h-1 M399.90,266.82h-1 M399.90,265.75h-1.8 M399.90,258.69h-1 M399.90,254.56h-1 M399.90,251.63h-1 M399.90,249.36h-1 M399.90,247.51h-1 M399.90,245.94h-1 M399.90,244.58h-1 M399.90,243.38h-1 M399.90,242.30h-1.8 M399.90,235.24h-1 M399.90,231.12h-1 M399.90,228.19h-1 M399.90,225.91h-1 M399.90,224.06h-1 M399.90,222.49h-1 M399.90,221.13h-1 M399.90,219.93h-1 M399.90,218.86h-1.8 M399.90,211.80h-1 M399.90,207.67h-1 M399.90,204.74h-1 M399.90,202.47h-1 M399.90,200.61h-1 M399.90,199.04h-1 M399.90,197.68h-1 M399.90,196.48h-1 M399.90,195.41h-1.8 M399.90,188.35h-1 M399.90,184.22h-1 M399.90,181.29h-1 M399.90,179.02h-1 M399.90,177.16h-1 M399.90,175.59h-1 M399.90,174.23h-1 M399.90,173.03h-1 M399.90,171.96h-1.8 M399.90,164.90h-1" stroke="#777" stroke-width="0.6" fill="none"/>
<text x="419.24" y="299.60" font-size="9.5" text-anchor="middle">1</text>
<text x="443.41" y="299.60" font-size="9.5" text-anchor="middle">2</text>
<text x="467.58" y="299.60" font-size="9.5" text-anchor="middle">3</text>
<text x="491.76" y="299.60" font-size="9.5" text-anchor="middle">4</text>
<text x="515.93" y="299.60" font-size="9.5" text-anchor="middle">5</text>
<text x="540.10" y="299.60" font-size="9.5" text-anchor="middle">6</text>
<text x="397.30" y="293.00" font-size="9.5" text-anchor="end">10<tspan font-size="7.03" dy="-3.7">−2</tspan></text>
<text x="397.30" y="269.55" font-size="9.5" text-anchor="end">10<tspan font-size="7.03" dy="-3.7">−1</tspan></text>
<text x="397.30" y="246.10" font-size="9.5" text-anchor="end">10<tspan font-size="7.03" dy="-3.7">0</tspan></text>
<text x="397.30" y="222.66" font-size="9.5" text-anchor="end">10<tspan font-size="7.03" dy="-3.7">1</tspan></text>
<text x="397.30" y="199.21" font-size="9.5" text-anchor="end">10<tspan font-size="7.03" dy="-3.7">2</tspan></text>
<text x="397.30" y="175.76" font-size="9.5" text-anchor="end">10<tspan font-size="7.03" dy="-3.7">3</tspan></text>
<text x="470.00" y="310.70" font-size="9.9" text-anchor="middle"><tspan font-style="italic">ħω</tspan> (eV)</text>
<text transform="translate(376.50,227.05) rotate(-90)" font-size="10.1" text-anchor="middle">Complex permittivity</text>
<text x="403.70" y="181.50" font-size="9.75">Au 25,000 K</text>
<rect x="454.30" y="168.90" width="82.10" height="33.30" rx="1.5" fill="#fff" fill-opacity="0.8" stroke="#ddd" stroke-width="0.7"/>
<path d="M459.00,175.10h11" stroke="#1f1fff" stroke-width="1.1"/>
<path d="M459.00,185.50h11" stroke="#ff1f1f" stroke-width="1.1"/>
<path d="M459.00,195.90h11" stroke="#111" stroke-width="1.1" stroke-dasharray="2.1,1"/>
<text x="477.70" y="176.60" font-size="7.5" style="fill:#555">|<tspan font-style="italic">ϵ</tspan><tspan font-size="5.25" dy="1.2">1</tspan><tspan dy="-1.2">|</tspan> Drude-Lorentz</text>
<text x="477.70" y="187.00" font-size="7.5" style="fill:#555"><tspan font-style="italic">ϵ</tspan><tspan font-size="5.25" dy="1.2">2</tspan><tspan dy="-1.2"> Drude-Lorentz</tspan></text>
<text x="477.70" y="198.30" font-size="7.5" font-style="italic" style="fill:#555">ab initio</text>
</g>
<g>
<clipPath id="c20"><rect x="38.30" y="319.70" width="140.20" height="124.30"/></clipPath>
<g clip-path="url(#c20)" fill="none" stroke-linejoin="round">
<path d="M38.30,332.90 C38.82,334.93 39.98,341.60 41.40,345.10 C42.82,348.60 44.77,351.53 46.80,353.90 C48.83,356.27 50.88,357.60 53.60,359.30 C56.32,361.00 59.70,362.58 63.10,364.10 C66.50,365.62 70.38,367.05 74.00,368.40 C77.62,369.75 81.20,371.00 84.80,372.20 C88.40,373.40 92.23,374.60 95.60,375.60 C98.97,376.60 101.75,377.27 105.00,378.20 C108.25,379.13 111.75,380.03 115.10,381.20 C118.45,382.37 122.08,383.70 125.10,385.20 C128.12,386.70 131.18,388.02 133.20,390.20 C135.22,392.38 136.13,394.95 137.20,398.30 C138.27,401.65 139.00,406.12 139.60,410.30 C140.20,414.48 140.60,421.22 140.80,423.40 M140.80,423.40 C141.00,421.22 141.43,414.82 142.00,410.30 C142.57,405.78 143.17,399.98 144.20,396.30 C145.23,392.62 146.85,390.05 148.20,388.20 C149.55,386.35 151.12,385.37 152.30,385.20 C153.48,385.03 154.40,385.70 155.30,387.20 C156.20,388.70 157.03,389.85 157.70,394.20 C158.37,398.55 159.03,410.12 159.30,413.30 M159.30,413.30 C159.50,410.47 160.00,401.15 160.50,396.30 C161.00,391.45 161.50,387.05 162.30,384.20 C163.10,381.35 164.13,380.03 165.30,379.20 C166.47,378.37 167.78,378.87 169.30,379.20 C170.82,379.53 172.85,380.37 174.40,381.20 C175.95,382.03 177.90,383.70 178.60,384.20" stroke="#1f1fff" stroke-width="1.2"/>
<path d="M38.30,337.00 C38.82,338.35 39.98,342.50 41.40,345.10 C42.82,347.70 44.77,350.45 46.80,352.60 C48.83,354.75 50.88,356.32 53.60,358.00 C56.32,359.68 59.70,361.23 63.10,362.70 C66.50,364.17 70.38,365.55 74.00,366.80 C77.62,368.05 81.20,369.18 84.80,370.20 C88.40,371.22 92.23,372.08 95.60,372.90 C98.97,373.72 101.75,374.22 105.00,375.10 C108.25,375.98 111.75,377.18 115.10,378.20 C118.45,379.22 121.75,380.27 125.10,381.20 C128.45,382.13 131.85,383.47 135.20,383.80 C138.55,384.13 142.53,383.97 145.20,383.20 C147.87,382.43 149.35,380.72 151.20,379.20 C153.05,377.68 154.78,375.45 156.30,374.10 C157.82,372.75 158.80,371.10 160.30,371.10 C161.80,371.10 163.45,372.75 165.30,374.10 C167.15,375.45 169.18,377.52 171.40,379.20 C173.62,380.88 177.40,383.37 178.60,384.20" stroke="#ff1f1f" stroke-width="1.2"/>
<path d="M38.30,337.29 C38.80,338.50 40.30,342.57 41.30,344.58 C42.30,346.58 43.30,347.98 44.30,349.32 C45.30,350.65 46.30,351.55 47.30,352.59 C48.30,353.62 49.30,354.72 50.30,355.53 C51.30,356.34 52.30,356.76 53.30,357.46 C54.30,358.16 55.30,359.22 56.30,359.76 C57.30,360.29 58.30,360.17 59.30,360.65 C60.30,361.12 61.30,362.20 62.30,362.62 C63.30,363.04 64.30,362.83 65.30,363.19 C66.30,363.56 67.30,364.43 68.30,364.82 C69.30,365.21 70.30,365.11 71.30,365.52 C72.30,365.93 73.30,366.92 74.30,367.26 C75.30,367.59 76.30,367.24 77.30,367.55 C78.30,367.87 79.30,368.82 80.30,369.15 C81.30,369.48 82.30,369.26 83.30,369.53 C84.30,369.80 85.30,370.53 86.30,370.80 C87.30,371.06 88.30,370.88 89.30,371.14 C90.30,371.41 91.30,372.17 92.30,372.38 C93.30,372.59 94.30,372.15 95.30,372.40 C96.30,372.64 97.30,373.62 98.30,373.86 C99.30,374.10 100.30,373.63 101.30,373.85 C102.30,374.08 103.30,374.94 104.30,375.20 C105.30,375.46 106.30,375.15 107.30,375.43 C108.30,375.72 109.30,376.58 110.30,376.91 C111.30,377.24 112.30,377.08 113.30,377.41 C114.30,377.74 115.30,378.63 116.30,378.91 C117.30,379.19 118.30,378.80 119.30,379.09 C120.30,379.38 121.30,380.31 122.30,380.64 C123.30,380.97 124.30,380.81 125.30,381.08 C126.30,381.34 127.30,382.00 128.30,382.25 C129.30,382.51 130.30,382.32 131.30,382.58 C132.30,382.84 133.30,383.69 134.30,383.80 C135.30,383.92 136.30,383.30 137.30,383.28 C138.30,383.26 139.30,383.77 140.30,383.70 C141.30,383.64 142.30,383.04 143.30,382.90 C144.30,382.76 145.30,383.31 146.30,382.88 C147.30,382.45 148.30,381.05 149.30,380.30 C150.30,379.55 151.30,379.28 152.30,378.36 C153.30,377.45 154.30,375.74 155.30,374.80 C156.30,373.87 157.30,373.32 158.30,372.76 C159.30,372.19 160.30,371.23 161.30,371.42 C162.30,371.62 163.30,373.23 164.30,373.92 C165.30,374.62 166.30,374.81 167.30,375.59 C168.30,376.37 169.30,377.82 170.30,378.61 C171.30,379.40 172.30,379.61 173.30,380.33 C174.30,381.05 175.80,382.49 176.30,382.93" stroke="#111" stroke-width="1.1" stroke-dasharray="2.1,1"/>
<path d="M38.30,332.90 C38.82,334.93 39.98,341.68 41.40,345.10 C42.82,348.52 44.77,351.12 46.80,353.40 C48.83,355.68 50.88,357.10 53.60,358.80 C56.32,360.50 59.70,362.10 63.10,363.60 C66.50,365.10 70.38,366.47 74.00,367.80 C77.62,369.13 81.20,370.43 84.80,371.60 C88.40,372.77 92.23,373.83 95.60,374.80 C98.97,375.77 101.75,376.50 105.00,377.40 C108.25,378.30 111.75,379.23 115.10,380.20 C118.45,381.17 122.08,381.87 125.10,383.20 C128.12,384.53 131.18,386.07 133.20,388.20 C135.22,390.33 136.13,392.70 137.20,396.00 C138.27,399.30 139.10,404.27 139.60,408.00 C140.10,411.73 140.10,416.67 140.20,418.40 M140.20,418.40 C140.50,416.17 141.33,409.03 142.00,405.00 C142.67,400.97 143.17,397.83 144.20,394.20 C145.23,390.57 146.68,385.20 148.20,383.20 C149.72,381.20 152.12,381.82 153.30,382.20 C154.48,382.58 154.57,383.70 155.30,385.50 C156.03,387.30 157.03,388.37 157.70,393.00 C158.37,397.63 159.03,409.92 159.30,413.30 M159.30,413.30 C159.50,410.47 160.00,401.15 160.50,396.30 C161.00,391.45 161.50,387.17 162.30,384.20 C163.10,381.23 164.13,379.45 165.30,378.50 C166.47,377.55 167.78,378.08 169.30,378.50 C170.82,378.92 172.85,380.05 174.40,381.00 C175.95,381.95 177.90,383.67 178.60,384.20" stroke="#111" stroke-width="1.1" stroke-dasharray="2.1,1"/>
</g>
<rect x="38.30" y="319.70" width="140.20" height="124.30" fill="none" stroke="#808080" stroke-width="0.8"/>
<path d="M57.64,444.00v1.8 M81.81,444.00v1.8 M105.98,444.00v1.8 M130.16,444.00v1.8 M154.33,444.00v1.8 M178.50,444.00v1.8 M38.30,444.00h-1.8 M38.30,436.94h-1 M38.30,432.81h-1 M38.30,429.88h-1 M38.30,427.61h-1 M38.30,425.75h-1 M38.30,424.18h-1 M38.30,422.82h-1 M38.30,421.62h-1 M38.30,420.55h-1.8 M38.30,413.49h-1 M38.30,409.36h-1 M38.30,406.43h-1 M38.30,404.16h-1 M38.30,402.31h-1 M38.30,400.74h-1 M38.30,399.38h-1 M38.30,398.18h-1 M38.30,397.10h-1.8 M38.30,390.04h-1 M38.30,385.92h-1 M38.30,382.99h-1 M38.30,380.71h-1 M38.30,378.86h-1 M38.30,377.29h-1 M38.30,375.93h-1 M38.30,374.73h-1 M38.30,373.66h-1.8 M38.30,366.60h-1 M38.30,362.47h-1 M38.30,359.54h-1 M38.30,357.27h-1 M38.30,355.41h-1 M38.30,353.84h-1 M38.30,352.48h-1 M38.30,351.28h-1 M38.30,350.21h-1.8 M38.30,343.15h-1 M38.30,339.02h-1 M38.30,336.09h-1 M38.30,333.82h-1 M38.30,331.96h-1 M38.30,330.39h-1 M38.30,329.03h-1 M38.30,327.83h-1 M38.30,326.76h-1.8 M38.30,319.70h-1" stroke="#777" stroke-width="0.6" fill="none"/>
<text x="57.64" y="454.40" font-size="9.5" text-anchor="middle">1</text>
<text x="81.81" y="454.40" font-size="9.5" text-anchor="middle">2</text>
<text x="105.98" y="454.40" font-size="9.5" text-anchor="middle">3</text>
<text x="130.16" y="454.40" font-size="9.5" text-anchor="middle">4</text>
<text x="154.33" y="454.40" font-size="9.5" text-anchor="middle">5</text>
<text x="178.50" y="454.40" font-size="9.5" text-anchor="middle">6</text>
<text x="35.70" y="447.80" font-size="9.5" text-anchor="end">10<tspan font-size="7.03" dy="-3.7">−2</tspan></text>
<text x="35.70" y="424.35" font-size="9.5" text-anchor="end">10<tspan font-size="7.03" dy="-3.7">−1</tspan></text>
<text x="35.70" y="400.90" font-size="9.5" text-anchor="end">10<tspan font-size="7.03" dy="-3.7">0</tspan></text>
<text x="35.70" y="377.46" font-size="9.5" text-anchor="end">10<tspan font-size="7.03" dy="-3.7">1</tspan></text>
<text x="35.70" y="354.01" font-size="9.5" text-anchor="end">10<tspan font-size="7.03" dy="-3.7">2</tspan></text>
<text x="35.70" y="330.56" font-size="9.5" text-anchor="end">10<tspan font-size="7.03" dy="-3.7">3</tspan></text>
<text x="108.40" y="465.50" font-size="9.9" text-anchor="middle"><tspan font-style="italic">ħω</tspan> (eV)</text>
<text transform="translate(14.90,381.85) rotate(-90)" font-size="10.1" text-anchor="middle">Complex permittivity</text>
<text x="42.10" y="336.30" font-size="9.75">Ni 300 K</text>
<rect x="92.70" y="323.70" width="82.10" height="33.30" rx="1.5" fill="#fff" fill-opacity="0.8" stroke="#ddd" stroke-width="0.7"/>
<path d="M97.40,329.90h11" stroke="#1f1fff" stroke-width="1.1"/>
<path d="M97.40,340.30h11" stroke="#ff1f1f" stroke-width="1.1"/>
<path d="M97.40,350.70h11" stroke="#111" stroke-width="1.1" stroke-dasharray="2.1,1"/>
<text x="116.10" y="331.40" font-size="7.5" style="fill:#555">|<tspan font-style="italic">ϵ</tspan><tspan font-size="5.25" dy="1.2">1</tspan><tspan dy="-1.2">|</tspan> Drude-Lorentz</text>
<text x="116.10" y="341.80" font-size="7.5" style="fill:#555"><tspan font-style="italic">ϵ</tspan><tspan font-size="5.25" dy="1.2">2</tspan><tspan dy="-1.2"> Drude-Lorentz</tspan></text>
<text x="116.10" y="353.10" font-size="7.5" font-style="italic" style="fill:#555">ab initio</text>
</g>
<g>
<clipPath id="c21"><rect x="219.10" y="319.70" width="140.20" height="124.30"/></clipPath>
<g clip-path="url(#c21)" fill="none" stroke-linejoin="round">
<path d="M219.30,331.60 C219.82,333.40 220.98,338.80 222.40,342.40 C223.82,346.00 225.98,350.27 227.80,353.20 C229.62,356.13 231.48,357.97 233.30,360.00 C235.12,362.03 236.90,363.48 238.70,365.40 C240.50,367.32 242.30,369.57 244.10,371.50 C245.90,373.43 247.68,375.70 249.50,377.00 C251.32,378.30 252.97,378.85 255.00,379.30 C257.03,379.75 259.45,379.48 261.70,379.70 C263.95,379.92 266.23,380.17 268.50,380.60 C270.77,381.03 273.37,381.70 275.30,382.30 C277.23,382.90 277.63,383.38 280.10,384.20 C282.57,385.02 286.75,386.02 290.10,387.20 C293.45,388.38 297.17,389.95 300.20,391.30 C303.23,392.65 305.95,393.80 308.30,395.30 C310.65,396.80 312.63,397.78 314.30,400.30 C315.97,402.82 317.37,406.37 318.30,410.40 C319.23,414.43 319.47,419.47 319.90,424.50 C320.33,429.53 320.73,437.92 320.90,440.60 M320.90,440.60 C321.07,437.92 321.48,429.53 321.90,424.50 C322.32,419.47 322.65,414.43 323.40,410.40 C324.15,406.37 325.23,403.15 326.40,400.30 C327.57,397.45 329.07,394.97 330.40,393.30 C331.73,391.63 333.23,390.30 334.40,390.30 C335.57,390.30 336.55,391.30 337.40,393.30 C338.25,395.30 339.05,399.12 339.50,402.30 C339.95,405.48 340.00,410.72 340.10,412.40 M340.10,412.40 C340.23,410.72 340.50,405.65 340.90,402.30 C341.30,398.95 341.73,394.82 342.50,392.30 C343.27,389.78 344.17,388.05 345.50,387.20 C346.83,386.35 348.32,386.68 350.50,387.20 C352.68,387.72 357.10,389.73 358.60,390.30 C360.10,390.87 359.35,390.55 359.50,390.60" stroke="#1f1fff" stroke-width="1.2"/>
<path d="M219.30,341.00 C219.60,342.58 220.13,347.78 221.10,350.50 C222.07,353.22 223.52,355.48 225.10,357.30 C226.68,359.12 228.57,360.05 230.60,361.40 C232.63,362.75 235.05,364.28 237.30,365.40 C239.55,366.52 241.83,367.53 244.10,368.10 C246.37,368.67 248.63,368.57 250.90,368.80 C253.17,369.03 255.45,369.05 257.70,369.50 C259.95,369.95 261.70,370.78 264.40,371.50 C267.10,372.22 270.95,373.12 273.90,373.80 C276.85,374.48 279.40,375.03 282.10,375.60 C284.80,376.17 287.08,376.60 290.10,377.20 C293.12,377.80 296.83,378.63 300.20,379.20 C303.57,379.77 306.95,380.17 310.30,380.60 C313.65,381.03 316.95,381.87 320.30,381.80 C323.65,381.73 327.72,380.97 330.40,380.20 C333.08,379.43 334.72,378.13 336.40,377.20 C338.08,376.27 339.15,374.60 340.50,374.60 C341.85,374.60 342.83,376.27 344.50,377.20 C346.17,378.13 348.15,379.37 350.50,380.20 C352.85,381.03 357.25,381.87 358.60,382.20" stroke="#ff1f1f" stroke-width="1.2"/>
<path d="M219.30,341.43 C219.80,343.22 221.30,349.43 222.30,352.17 C223.30,354.91 224.30,356.67 225.30,357.88 C226.30,359.09 227.30,358.66 228.30,359.40 C229.30,360.15 230.30,361.73 231.30,362.34 C232.30,362.96 233.30,362.49 234.30,363.08 C235.30,363.67 236.30,365.32 237.30,365.86 C238.30,366.40 239.30,365.94 240.30,366.33 C241.30,366.72 242.30,367.91 243.30,368.19 C244.30,368.47 245.30,367.87 246.30,368.00 C247.30,368.12 248.30,368.87 249.30,368.94 C250.30,369.00 251.30,368.21 252.30,368.36 C253.30,368.52 254.30,369.67 255.30,369.85 C256.30,370.03 257.30,369.25 258.30,369.46 C259.30,369.67 260.30,370.86 261.30,371.12 C262.30,371.38 263.30,370.79 264.30,371.03 C265.30,371.27 266.30,372.29 267.30,372.55 C268.30,372.82 269.30,372.35 270.30,372.61 C271.30,372.88 272.30,373.90 273.30,374.12 C274.30,374.35 275.30,373.72 276.30,373.94 C277.30,374.17 278.30,375.25 279.30,375.46 C280.30,375.66 281.30,375.00 282.30,375.18 C283.30,375.35 284.30,376.30 285.30,376.49 C286.30,376.69 287.30,376.08 288.30,376.33 C289.30,376.59 290.30,377.85 291.30,378.03 C292.30,378.22 293.30,377.27 294.30,377.44 C295.30,377.62 296.30,378.81 297.30,379.07 C298.30,379.33 299.30,378.87 300.30,379.00 C301.30,379.12 302.30,379.70 303.30,379.83 C304.30,379.96 305.30,379.59 306.30,379.79 C307.30,379.99 308.30,380.92 309.30,381.04 C310.30,381.16 311.30,380.43 312.30,380.52 C313.30,380.60 314.30,381.47 315.30,381.55 C316.30,381.63 317.30,380.93 318.30,381.00 C319.30,381.07 320.30,382.01 321.30,381.97 C322.30,381.93 323.30,380.90 324.30,380.75 C325.30,380.60 326.30,381.19 327.30,381.07 C328.30,380.94 329.30,380.30 330.30,379.99 C331.30,379.68 332.30,379.73 333.30,379.18 C334.30,378.64 335.30,377.31 336.30,376.71 C337.30,376.12 338.30,375.83 339.30,375.62 C340.30,375.42 341.30,375.09 342.30,375.48 C343.30,375.87 344.30,377.40 345.30,377.97 C346.30,378.53 347.30,378.41 348.30,378.89 C349.30,379.36 350.30,380.51 351.30,380.80 C352.30,381.08 353.30,380.35 354.30,380.61 C355.30,380.87 356.80,382.05 357.30,382.34" stroke="#111" stroke-width="1.1" stroke-dasharray="2.1,1"/>
<path d="M219.30,331.60 L221.30,338.57 L223.30,344.20 L225.30,348.20 L227.30,352.20 L229.30,355.05 L231.30,357.53 L233.30,360.00 L235.30,362.00 L237.30,364.00 L239.30,366.08 L241.30,368.34 L243.30,370.60 L245.30,372.61 L247.30,374.46 L249.30,376.31 L251.30,377.95 L253.30,376.79 L255.30,379.50 L257.30,376.83 L259.30,378.71 L261.30,377.09 L263.30,379.00 L265.30,378.33 L267.30,381.11 L269.30,379.64 L271.30,381.83 L273.30,381.08 L275.30,382.83 L277.30,381.62 L279.30,384.37 L281.30,383.37 L283.30,385.79 L285.30,383.74 L287.30,386.70 L289.30,385.26 L291.30,387.55 L293.30,387.26 L295.30,389.42 L297.30,388.76 L299.30,390.03 L300.00,390.30 L304.10,391.70 L306.90,393.80 L308.90,397.20 L311.70,396.50 L313.80,396.50 L315.80,397.90 L317.20,400.60 L318.60,407.50 L319.30,415.80 L319.90,424.00 L320.60,419.90 L321.30,411.60 L322.00,404.80 L322.70,402.00 L323.40,404.10 L324.10,408.90 L324.80,415.80 L325.40,410.30 L326.40,403.40 L327.50,399.30 L329.60,393.10 L331.60,389.60 L334.40,391.00 L337.10,393.80 L339.20,399.30 L340.20,407.50 L340.60,412.30 L341.30,400.60 L342.60,391.00 L345.00,387.60 L350.50,387.50 L358.60,390.30 L359.50,390.60" stroke="#111" stroke-width="1.1" stroke-dasharray="2.1,1"/>
</g>
<rect x="219.10" y="319.70" width="140.20" height="124.30" fill="none" stroke="#808080" stroke-width="0.8"/>
<path d="M238.44,444.00v1.8 M262.61,444.00v1.8 M286.78,444.00v1.8 M310.96,444.00v1.8 M335.13,444.00v1.8 M359.30,444.00v1.8 M219.10,444.00h-1.8 M219.10,436.94h-1 M219.10,432.81h-1 M219.10,429.88h-1 M219.10,427.61h-1 M219.10,425.75h-1 M219.10,424.18h-1 M219.10,422.82h-1 M219.10,421.62h-1 M219.10,420.55h-1.8 M219.10,413.49h-1 M219.10,409.36h-1 M219.10,406.43h-1 M219.10,404.16h-1 M219.10,402.31h-1 M219.10,400.74h-1 M219.10,399.38h-1 M219.10,398.18h-1 M219.10,397.10h-1.8 M219.10,390.04h-1 M219.10,385.92h-1 M219.10,382.99h-1 M219.10,380.71h-1 M219.10,378.86h-1 M219.10,377.29h-1 M219.10,375.93h-1 M219.10,374.73h-1 M219.10,373.66h-1.8 M219.10,366.60h-1 M219.10,362.47h-1 M219.10,359.54h-1 M219.10,357.27h-1 M219.10,355.41h-1 M219.10,353.84h-1 M219.10,352.48h-1 M219.10,351.28h-1 M219.10,350.21h-1.8 M219.10,343.15h-1 M219.10,339.02h-1 M219.10,336.09h-1 M219.10,333.82h-1 M219.10,331.96h-1 M219.10,330.39h-1 M219.10,329.03h-1 M219.10,327.83h-1 M219.10,326.76h-1.8 M219.10,319.70h-1" stroke="#777" stroke-width="0.6" fill="none"/>
<text x="238.44" y="454.40" font-size="9.5" text-anchor="middle">1</text>
<text x="262.61" y="454.40" font-size="9.5" text-anchor="middle">2</text>
<text x="286.78" y="454.40" font-size="9.5" text-anchor="middle">3</text>
<text x="310.96" y="454.40" font-size="9.5" text-anchor="middle">4</text>
<text x="335.13" y="454.40" font-size="9.5" text-anchor="middle">5</text>
<text x="359.30" y="454.40" font-size="9.5" text-anchor="middle">6</text>
<text x="216.50" y="447.80" font-size="9.5" text-anchor="end">10<tspan font-size="7.03" dy="-3.7">−2</tspan></text>
<text x="216.50" y="424.35" font-size="9.5" text-anchor="end">10<tspan font-size="7.03" dy="-3.7">−1</tspan></text>
<text x="216.50" y="400.90" font-size="9.5" text-anchor="end">10<tspan font-size="7.03" dy="-3.7">0</tspan></text>
<text x="216.50" y="377.46" font-size="9.5" text-anchor="end">10<tspan font-size="7.03" dy="-3.7">1</tspan></text>
<text x="216.50" y="354.01" font-size="9.5" text-anchor="end">10<tspan font-size="7.03" dy="-3.7">2</tspan></text>
<text x="216.50" y="330.56" font-size="9.5" text-anchor="end">10<tspan font-size="7.03" dy="-3.7">3</tspan></text>
<text x="289.20" y="465.50" font-size="9.9" text-anchor="middle"><tspan font-style="italic">ħω</tspan> (eV)</text>
<text transform="translate(195.70,381.85) rotate(-90)" font-size="10.1" text-anchor="middle">Complex permittivity</text>
<text x="222.90" y="336.30" font-size="9.75">Ni 10,000 K</text>
<rect x="273.50" y="323.70" width="82.10" height="33.30" rx="1.5" fill="#fff" fill-opacity="0.8" stroke="#ddd" stroke-width="0.7"/>
<path d="M278.20,329.90h11" stroke="#1f1fff" stroke-width="1.1"/>
<path d="M278.20,340.30h11" stroke="#ff1f1f" stroke-width="1.1"/>
<path d="M278.20,350.70h11" stroke="#111" stroke-width="1.1" stroke-dasharray="2.1,1"/>
<text x="296.90" y="331.40" font-size="7.5" style="fill:#555">|<tspan font-style="italic">ϵ</tspan><tspan font-size="5.25" dy="1.2">1</tspan><tspan dy="-1.2">|</tspan> Drude-Lorentz</text>
<text x="296.90" y="341.80" font-size="7.5" style="fill:#555"><tspan font-style="italic">ϵ</tspan><tspan font-size="5.25" dy="1.2">2</tspan><tspan dy="-1.2"> Drude-Lorentz</tspan></text>
<text x="296.90" y="353.10" font-size="7.5" font-style="italic" style="fill:#555">ab initio</text>
</g>
<g>
<clipPath id="c22"><rect x="399.90" y="319.70" width="140.20" height="124.30"/></clipPath>
<g clip-path="url(#c22)" fill="none" stroke-linejoin="round">
<path d="M400.30,327.50 C400.82,329.30 401.98,334.68 403.40,338.30 C404.82,341.92 406.98,346.25 408.80,349.20 C410.62,352.15 412.48,353.97 414.30,356.00 C416.12,358.03 417.90,359.83 419.70,361.40 C421.50,362.97 423.30,364.05 425.10,365.40 C426.90,366.75 428.23,368.13 430.50,369.50 C432.77,370.87 435.98,372.35 438.70,373.60 C441.42,374.85 444.58,375.97 446.80,377.00 C449.02,378.03 450.12,378.77 452.00,379.80 C453.88,380.83 455.08,382.13 458.10,383.20 C461.12,384.27 466.42,385.18 470.10,386.20 C473.78,387.22 476.83,388.12 480.20,389.30 C483.57,390.48 487.28,391.97 490.30,393.30 C493.32,394.63 496.47,395.80 498.30,397.30 C500.13,398.80 500.57,400.12 501.30,402.30 C502.03,404.48 502.32,405.70 502.70,410.40 C503.08,415.10 503.45,427.15 503.60,430.50 M503.60,430.50 C503.73,425.47 504.10,406.50 504.40,400.30 C504.70,394.10 504.73,393.13 505.40,393.30 C506.07,393.47 507.40,398.78 508.40,401.30 C509.40,403.82 510.47,408.57 511.40,408.40 C512.33,408.23 513.17,402.98 514.00,400.30 C514.83,397.62 515.48,394.48 516.40,392.30 C517.32,390.12 517.82,388.22 519.50,387.20 C521.18,386.18 523.15,385.85 526.50,386.20 C529.85,386.55 537.27,388.73 539.60,389.30 C541.93,389.87 540.35,389.55 540.50,389.60" stroke="#1f1fff" stroke-width="1.2"/>
<path d="M400.30,331.60 C400.60,333.63 401.13,339.97 402.10,343.80 C403.07,347.63 404.52,351.67 406.10,354.60 C407.68,357.53 409.57,359.60 411.60,361.40 C413.63,363.20 416.05,364.28 418.30,365.40 C420.55,366.52 422.62,367.30 425.10,368.10 C427.58,368.90 430.48,369.63 433.20,370.20 C435.92,370.77 438.68,370.98 441.40,371.50 C444.12,372.02 446.80,372.77 449.50,373.30 C452.20,373.83 454.88,374.32 457.60,374.70 C460.32,375.08 463.72,375.35 465.80,375.60 C467.88,375.85 467.70,375.93 470.10,376.20 C472.50,376.47 476.83,376.87 480.20,377.20 C483.57,377.53 486.95,377.87 490.30,378.20 C493.65,378.53 496.95,379.37 500.30,379.20 C503.65,379.03 507.72,377.70 510.40,377.20 C513.08,376.70 514.38,376.03 516.40,376.20 C518.42,376.37 520.15,377.37 522.50,378.20 C524.85,379.03 527.65,380.47 530.50,381.20 C533.35,381.93 537.93,382.35 539.60,382.60 C541.27,382.85 540.35,382.68 540.50,382.70" stroke="#ff1f1f" stroke-width="1.2"/>
<path d="M400.30,331.60 C400.77,334.08 402.17,342.76 403.10,346.50 C404.03,350.24 404.97,352.17 405.90,354.06 C406.83,355.95 407.77,356.61 408.70,357.81 C409.63,359.02 410.57,360.41 411.50,361.28 C412.43,362.14 413.37,362.44 414.30,363.01 C415.23,363.58 416.17,364.18 417.10,364.68 C418.03,365.19 418.97,365.62 419.90,366.04 C420.83,366.45 421.77,366.70 422.70,367.15 C423.63,367.59 424.57,368.49 425.50,368.69 C426.43,368.89 427.37,368.09 428.30,368.35 C429.23,368.61 430.17,369.97 431.10,370.24 C432.03,370.51 432.97,369.86 433.90,369.99 C434.83,370.12 435.77,370.88 436.70,371.01 C437.63,371.14 438.57,370.58 439.50,370.76 C440.43,370.94 441.37,371.94 442.30,372.09 C443.23,372.24 444.17,371.42 445.10,371.67 C446.03,371.91 446.97,373.32 447.90,373.54 C448.83,373.75 449.77,372.79 450.70,372.96 C451.63,373.12 452.57,374.36 453.50,374.52 C454.43,374.68 455.37,373.78 456.30,373.89 C457.23,374.01 458.17,375.05 459.10,375.19 C460.03,375.32 460.97,374.60 461.90,374.70 C462.83,374.81 463.77,375.74 464.70,375.81 C465.63,375.88 466.57,375.02 467.50,375.13 C468.43,375.25 469.37,376.38 470.30,376.50 C471.23,376.62 472.17,375.74 473.10,375.84 C474.03,375.93 474.97,376.96 475.90,377.06 C476.83,377.16 477.77,376.34 478.70,376.46 C479.63,376.57 480.57,377.63 481.50,377.75 C482.43,377.86 483.37,377.02 484.30,377.15 C485.23,377.29 486.17,378.43 487.10,378.55 C488.03,378.68 488.97,377.87 489.90,377.90 C490.83,377.93 491.77,378.70 492.70,378.72 C493.63,378.74 494.57,377.88 495.50,378.01 C496.43,378.14 497.37,379.38 498.30,379.50 C499.23,379.63 500.17,378.79 501.10,378.75 C502.03,378.70 502.97,379.49 503.90,379.23 C504.83,378.97 505.77,377.47 506.70,377.21 C507.63,376.95 508.57,377.82 509.50,377.68 C510.43,377.55 511.37,376.58 512.30,376.42 C513.23,376.26 514.17,376.76 515.10,376.73 C516.03,376.71 516.97,376.05 517.90,376.29 C518.83,376.52 519.77,377.84 520.70,378.17 C521.63,378.50 522.57,377.90 523.50,378.24 C524.43,378.59 525.37,379.86 526.30,380.22 C527.23,380.58 528.17,380.14 529.10,380.40 C530.03,380.65 530.97,381.62 531.90,381.75 C532.83,381.88 533.77,381.03 534.70,381.19 C535.63,381.35 536.57,382.56 537.50,382.73 C538.43,382.90 539.83,382.30 540.30,382.22" stroke="#111" stroke-width="1.1" stroke-dasharray="2.1,1"/>
<path d="M400.30,327.50 L403.40,338.30 L408.80,349.20 L414.30,356.00 L419.70,361.40 L425.10,365.40 L430.50,369.50 L438.70,373.60 L444.00,376.50 L447.50,378.50 L450.20,380.20 L454.00,380.80 L455.90,384.00 L459.10,381.50 L461.00,382.10 L464.20,385.30 L466.10,389.10 L467.40,385.30 L470.50,385.90 L474.40,385.90 L476.30,387.20 L478.20,387.80 L480.10,391.60 L482.00,387.20 L483.90,386.50 L485.80,388.50 L487.70,390.40 L489.60,389.10 L491.50,395.50 L493.50,397.40 L495.40,392.90 L497.30,389.10 L498.50,392.90 L499.80,397.40 L501.70,400.50 L502.70,410.40 L503.60,430.50 L504.40,400.30 L505.40,393.30 L508.40,401.30 L511.40,408.40 L514.00,400.30 L516.40,390.50 L519.50,386.50 L526.50,385.20 L532.00,388.00 L539.60,388.80 L540.50,389.60" stroke="#111" stroke-width="1.1" stroke-dasharray="2.1,1"/>
</g>
<rect x="399.90" y="319.70" width="140.20" height="124.30" fill="none" stroke="#808080" stroke-width="0.8"/>
<path d="M419.24,444.00v1.8 M443.41,444.00v1.8 M467.58,444.00v1.8 M491.76,444.00v1.8 M515.93,444.00v1.8 M540.10,444.00v1.8 M399.90,444.00h-1.8 M399.90,436.94h-1 M399.90,432.81h-1 M399.90,429.88h-1 M399.90,427.61h-1 M399.90,425.75h-1 M399.90,424.18h-1 M399.90,422.82h-1 M399.90,421.62h-1 M399.90,420.55h-1.8 M399.90,413.49h-1 M399.90,409.36h-1 M399.90,406.43h-1 M399.90,404.16h-1 M399.90,402.31h-1 M399.90,400.74h-1 M399.90,399.38h-1 M399.90,398.18h-1 M399.90,397.10h-1.8 M399.90,390.04h-1 M399.90,385.92h-1 M399.90,382.99h-1 M399.90,380.71h-1 M399.90,378.86h-1 M399.90,377.29h-1 M399.90,375.93h-1 M399.90,374.73h-1 M399.90,373.66h-1.8 M399.90,366.60h-1 M399.90,362.47h-1 M399.90,359.54h-1 M399.90,357.27h-1 M399.90,355.41h-1 M399.90,353.84h-1 M399.90,352.48h-1 M399.90,351.28h-1 M399.90,350.21h-1.8 M399.90,343.15h-1 M399.90,339.02h-1 M399.90,336.09h-1 M399.90,333.82h-1 M399.90,331.96h-1 M399.90,330.39h-1 M399.90,329.03h-1 M399.90,327.83h-1 M399.90,326.76h-1.8 M399.90,319.70h-1" stroke="#777" stroke-width="0.6" fill="none"/>
<text x="419.24" y="454.40" font-size="9.5" text-anchor="middle">1</text>
<text x="443.41" y="454.40" font-size="9.5" text-anchor="middle">2</text>
<text x="467.58" y="454.40" font-size="9.5" text-anchor="middle">3</text>
<text x="491.76" y="454.40" font-size="9.5" text-anchor="middle">4</text>
<text x="515.93" y="454.40" font-size="9.5" text-anchor="middle">5</text>
<text x="540.10" y="454.40" font-size="9.5" text-anchor="middle">6</text>
<text x="397.30" y="447.80" font-size="9.5" text-anchor="end">10<tspan font-size="7.03" dy="-3.7">−2</tspan></text>
<text x="397.30" y="424.35" font-size="9.5" text-anchor="end">10<tspan font-size="7.03" dy="-3.7">−1</tspan></text>
<text x="397.30" y="400.90" font-size="9.5" text-anchor="end">10<tspan font-size="7.03" dy="-3.7">0</tspan></text>
<text x="397.30" y="377.46" font-size="9.5" text-anchor="end">10<tspan font-size="7.03" dy="-3.7">1</tspan></text>
<text x="397.30" y="354.01" font-size="9.5" text-anchor="end">10<tspan font-size="7.03" dy="-3.7">2</tspan></text>
<text x="397.30" y="330.56" font-size="9.5" text-anchor="end">10<tspan font-size="7.03" dy="-3.7">3</tspan></text>
<text x="470.00" y="465.50" font-size="9.9" text-anchor="middle"><tspan font-style="italic">ħω</tspan> (eV)</text>
<text transform="translate(376.50,381.85) rotate(-90)" font-size="10.1" text-anchor="middle">Complex permittivity</text>
<text x="403.70" y="336.30" font-size="9.75">Ni 25,000 K</text>
<rect x="454.30" y="323.70" width="82.10" height="33.30" rx="1.5" fill="#fff" fill-opacity="0.8" stroke="#ddd" stroke-width="0.7"/>
<path d="M459.00,329.90h11" stroke="#1f1fff" stroke-width="1.1"/>
<path d="M459.00,340.30h11" stroke="#ff1f1f" stroke-width="1.1"/>
<path d="M459.00,350.70h11" stroke="#111" stroke-width="1.1" stroke-dasharray="2.1,1"/>
<text x="477.70" y="331.40" font-size="7.5" style="fill:#555">|<tspan font-style="italic">ϵ</tspan><tspan font-size="5.25" dy="1.2">1</tspan><tspan dy="-1.2">|</tspan> Drude-Lorentz</text>
<text x="477.70" y="341.80" font-size="7.5" style="fill:#555"><tspan font-style="italic">ϵ</tspan><tspan font-size="5.25" dy="1.2">2</tspan><tspan dy="-1.2"> Drude-Lorentz</tspan></text>
<text x="477.70" y="353.10" font-size="7.5" font-style="italic" style="fill:#555">ab initio</text>
</g>
</svg></body></html>
